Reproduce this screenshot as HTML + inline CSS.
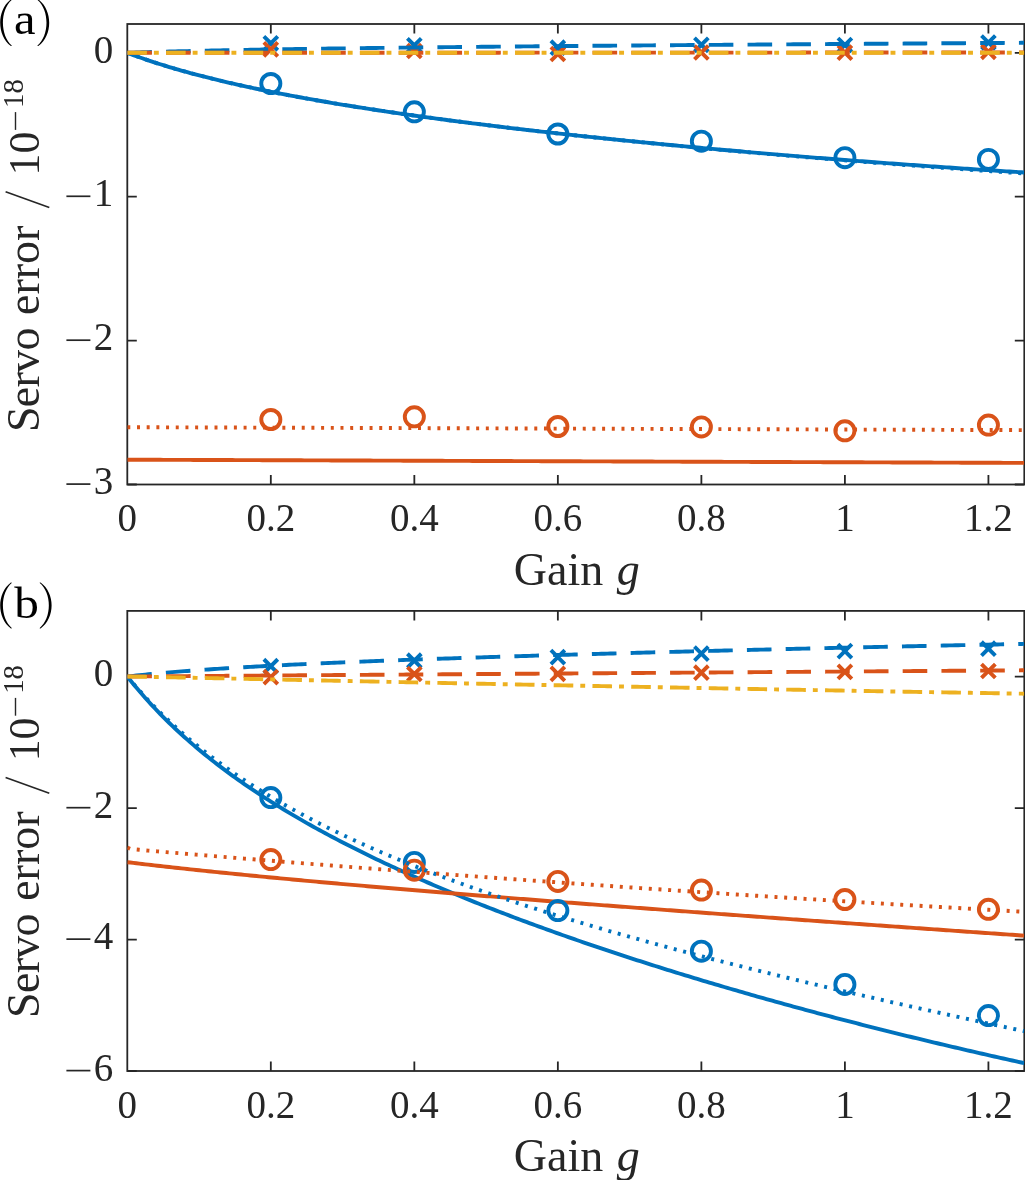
<!DOCTYPE html><html><head><meta charset="utf-8"><style>
html,body{margin:0;padding:0;background:#fff;}
svg{display:block;will-change:transform;}
text{font-family:"Liberation Serif", serif;}
.tk{font-size:39px;fill:#262626;}
.lab{font-size:46px;fill:#262626;}
.sup{font-size:31px;}
.pl{font-size:44px;fill:#000;}
.pp{font-size:53px;fill:#000;}
.yl{font-size:46px;fill:#262626;}
.sv{letter-spacing:-0.7px;}
.yd{font-size:43.6px;fill:#262626;}
.ys{font-size:28.8px;fill:#262626;}
</style></head><body><svg width="1025" height="1180" viewBox="0 0 1025 1180"><rect width="1025" height="1180" fill="#fff"/><path d="M270.82 484.50 V475.00 M270.82 24.00 V33.50 M414.34 484.50 V475.00 M414.34 24.00 V33.50 M557.86 484.50 V475.00 M557.86 24.00 V33.50 M701.38 484.50 V475.00 M701.38 24.00 V33.50 M844.90 484.50 V475.00 M844.90 24.00 V33.50 M988.42 484.50 V475.00 M988.42 24.00 V33.50 M127.30 52.78 H136.80 M1024.30 52.78 H1014.80 M127.30 196.69 H136.80 M1024.30 196.69 H1014.80 M127.30 340.59 H136.80 M1024.30 340.59 H1014.80 M127.30 484.50 H136.80 M1024.30 484.50 H1014.80" stroke="#262626" stroke-width="1.80" fill="none"/><rect x="127.30" y="24.00" width="897.00" height="460.50" fill="none" stroke="#262626" stroke-width="1.80"/><text x="127.30" y="531.30" class="tk" text-anchor="middle">0</text><text x="270.82" y="531.30" class="tk" text-anchor="middle">0.2</text><text x="414.34" y="531.30" class="tk" text-anchor="middle">0.4</text><text x="557.86" y="531.30" class="tk" text-anchor="middle">0.6</text><text x="701.38" y="531.30" class="tk" text-anchor="middle">0.8</text><text x="844.90" y="531.30" class="tk" text-anchor="middle">1</text><text x="988.42" y="531.30" class="tk" text-anchor="middle">1.2</text><text x="113.20" y="62.58" class="tk" text-anchor="end">0</text><rect x="66.4" y="195.44" width="24.0" height="1.7" fill="#262626"/><text x="113.20" y="206.49" class="tk" text-anchor="end">1</text><rect x="66.4" y="339.34" width="24.0" height="1.7" fill="#262626"/><text x="113.20" y="350.39" class="tk" text-anchor="end">2</text><rect x="66.4" y="483.25" width="24.0" height="1.7" fill="#262626"/><text x="113.20" y="494.30" class="tk" text-anchor="end">3</text><path d="M270.82 1071.00 V1061.50 M270.82 610.90 V620.40 M414.34 1071.00 V1061.50 M414.34 610.90 V620.40 M557.86 1071.00 V1061.50 M557.86 610.90 V620.40 M701.38 1071.00 V1061.50 M701.38 610.90 V620.40 M844.90 1071.00 V1061.50 M844.90 610.90 V620.40 M988.42 1071.00 V1061.50 M988.42 610.90 V620.40 M127.30 676.63 H136.80 M1024.30 676.63 H1014.80 M127.30 808.09 H136.80 M1024.30 808.09 H1014.80 M127.30 939.54 H136.80 M1024.30 939.54 H1014.80 M127.30 1071.00 H136.80 M1024.30 1071.00 H1014.80" stroke="#262626" stroke-width="1.80" fill="none"/><rect x="127.30" y="610.90" width="897.00" height="460.10" fill="none" stroke="#262626" stroke-width="1.80"/><text x="127.30" y="1117.80" class="tk" text-anchor="middle">0</text><text x="270.82" y="1117.80" class="tk" text-anchor="middle">0.2</text><text x="414.34" y="1117.80" class="tk" text-anchor="middle">0.4</text><text x="557.86" y="1117.80" class="tk" text-anchor="middle">0.6</text><text x="701.38" y="1117.80" class="tk" text-anchor="middle">0.8</text><text x="844.90" y="1117.80" class="tk" text-anchor="middle">1</text><text x="988.42" y="1117.80" class="tk" text-anchor="middle">1.2</text><text x="113.20" y="686.43" class="tk" text-anchor="end">0</text><rect x="66.4" y="806.84" width="24.0" height="1.7" fill="#262626"/><text x="113.20" y="817.89" class="tk" text-anchor="end">2</text><rect x="66.4" y="938.29" width="24.0" height="1.7" fill="#262626"/><text x="113.20" y="949.34" class="tk" text-anchor="end">4</text><rect x="66.4" y="1069.75" width="24.0" height="1.7" fill="#262626"/><text x="113.20" y="1080.80" class="tk" text-anchor="end">6</text><clipPath id="ca"><rect x="127.30" y="24.00" width="897.00" height="460.50"/></clipPath><g clip-path="url(#ca)"><path d="M127.30 52.80 L130.30 53.94 L133.30 55.05 L136.30 56.15 L139.30 57.23 L142.30 58.28 L145.30 59.32 L148.30 60.34 L151.30 61.34 L154.30 62.33 L157.30 63.30 L160.30 64.25 L163.30 65.19 L166.30 66.11 L169.30 67.02 L172.30 67.92 L175.30 68.80 L178.30 69.67 L181.30 70.52 L184.30 71.37 L187.30 72.20 L190.30 73.02 L193.30 73.83 L196.30 74.63 L199.30 75.42 L202.30 76.20 L205.30 76.96 L208.30 77.72 L211.30 78.47 L214.30 79.21 L217.30 79.94 L220.30 80.66 L223.30 81.38 L226.30 82.08 L229.30 82.78 L232.30 83.47 L235.30 84.15 L238.30 84.82 L241.30 85.49 L244.30 86.15 L247.30 86.80 L250.30 87.45 L253.30 88.09 L256.30 88.72 L259.30 89.35 L262.30 89.97 L265.30 90.58 L268.30 91.19 L271.30 91.79 L274.30 92.39 L277.30 92.98 L280.30 93.57 L283.30 94.15 L286.30 94.73 L289.30 95.30 L292.30 95.86 L295.30 96.42 L298.30 96.98 L301.30 97.53 L304.30 98.07 L307.30 98.62 L310.30 99.15 L313.30 99.69 L316.30 100.22 L319.30 100.74 L322.30 101.26 L325.30 101.78 L328.30 102.29 L331.30 102.80 L334.30 103.30 L337.30 103.81 L340.30 104.30 L343.30 104.80 L346.30 105.29 L349.30 105.77 L352.30 106.26 L355.30 106.74 L358.30 107.21 L361.30 107.69 L364.30 108.16 L367.30 108.63 L370.30 109.09 L373.30 109.55 L376.30 110.01 L379.30 110.46 L382.30 110.92 L385.30 111.36 L388.30 111.81 L391.30 112.25 L394.30 112.70 L397.30 113.13 L400.30 113.57 L403.30 114.00 L406.30 114.43 L409.30 114.86 L412.30 115.28 L415.30 115.71 L418.30 116.13 L421.30 116.55 L424.30 116.96 L427.30 117.37 L430.30 117.78 L433.30 118.19 L436.30 118.60 L439.30 119.00 L442.30 119.40 L445.30 119.80 L448.30 120.20 L451.30 120.60 L454.30 120.99 L457.30 121.38 L460.30 121.77 L463.30 122.16 L466.30 122.54 L469.30 122.93 L472.30 123.31 L475.30 123.69 L478.30 124.06 L481.30 124.44 L484.30 124.81 L487.30 125.18 L490.30 125.55 L493.30 125.92 L496.30 126.29 L499.30 126.65 L502.30 127.02 L505.30 127.38 L508.30 127.74 L511.30 128.09 L514.30 128.45 L517.30 128.80 L520.30 129.16 L523.30 129.51 L526.30 129.86 L529.30 130.21 L532.30 130.55 L535.30 130.90 L538.30 131.24 L541.30 131.58 L544.30 131.92 L547.30 132.26 L550.30 132.60 L553.30 132.93 L556.30 133.27 L559.30 133.60 L562.30 133.93 L565.30 134.26 L568.30 134.59 L571.30 134.92 L574.30 135.24 L577.30 135.57 L580.30 135.89 L583.30 136.21 L586.30 136.53 L589.30 136.85 L592.30 137.17 L595.30 137.48 L598.30 137.80 L601.30 138.11 L604.30 138.43 L607.30 138.74 L610.30 139.05 L613.30 139.36 L616.30 139.66 L619.30 139.97 L622.30 140.27 L625.30 140.58 L628.30 140.88 L631.30 141.18 L634.30 141.48 L637.30 141.78 L640.30 142.08 L643.30 142.38 L646.30 142.67 L649.30 142.97 L652.30 143.26 L655.30 143.55 L658.30 143.84 L661.30 144.13 L664.30 144.42 L667.30 144.71 L670.30 144.99 L673.30 145.28 L676.30 145.56 L679.30 145.85 L682.30 146.13 L685.30 146.41 L688.30 146.69 L691.30 146.97 L694.30 147.25 L697.30 147.53 L700.30 147.80 L703.30 148.08 L706.30 148.35 L709.30 148.62 L712.30 148.90 L715.30 149.17 L718.30 149.44 L721.30 149.71 L724.30 149.97 L727.30 150.24 L730.30 150.51 L733.30 150.77 L736.30 151.04 L739.30 151.30 L742.30 151.56 L745.30 151.82 L748.30 152.08 L751.30 152.34 L754.30 152.60 L757.30 152.86 L760.30 153.11 L763.30 153.37 L766.30 153.62 L769.30 153.88 L772.30 154.13 L775.30 154.38 L778.30 154.63 L781.30 154.88 L784.30 155.13 L787.30 155.38 L790.30 155.63 L793.30 155.88 L796.30 156.12 L799.30 156.37 L802.30 156.61 L805.30 156.85 L808.30 157.10 L811.30 157.34 L814.30 157.58 L817.30 157.82 L820.30 158.06 L823.30 158.29 L826.30 158.53 L829.30 158.77 L832.30 159.00 L835.30 159.24 L838.30 159.47 L841.30 159.71 L844.30 159.94 L847.30 160.17 L850.30 160.40 L853.30 160.63 L856.30 160.86 L859.30 161.09 L862.30 161.31 L865.30 161.54 L868.30 161.77 L871.30 161.99 L874.30 162.21 L877.30 162.44 L880.30 162.66 L883.30 162.88 L886.30 163.10 L889.30 163.32 L892.30 163.54 L895.30 163.76 L898.30 163.98 L901.30 164.20 L904.30 164.41 L907.30 164.63 L910.30 164.84 L913.30 165.06 L916.30 165.27 L919.30 165.48 L922.30 165.70 L925.30 165.91 L928.30 166.12 L931.30 166.33 L934.30 166.54 L937.30 166.74 L940.30 166.95 L943.30 167.16 L946.30 167.36 L949.30 167.57 L952.30 167.77 L955.30 167.98 L958.30 168.18 L961.30 168.38 L964.30 168.58 L967.30 168.78 L970.30 168.98 L973.30 169.18 L976.30 169.38 L979.30 169.58 L982.30 169.78 L985.30 169.97 L988.30 170.17 L991.30 170.36 L994.30 170.56 L997.30 170.75 L1000.30 170.95 L1003.30 171.14 L1006.30 171.33 L1009.30 171.52 L1012.30 171.71 L1015.30 171.90 L1018.30 172.09 L1021.30 172.28 L1024.30 172.46" fill="none" stroke="#0072BD" stroke-width="3.90" stroke-linejoin="round"/><path d="M127.30 459.70 L130.30 459.71 L133.30 459.72 L136.30 459.73 L139.30 459.74 L142.30 459.75 L145.30 459.76 L148.30 459.77 L151.30 459.79 L154.30 459.80 L157.30 459.81 L160.30 459.82 L163.30 459.83 L166.30 459.84 L169.30 459.85 L172.30 459.86 L175.30 459.87 L178.30 459.88 L181.30 459.89 L184.30 459.90 L187.30 459.91 L190.30 459.92 L193.30 459.94 L196.30 459.95 L199.30 459.96 L202.30 459.97 L205.30 459.98 L208.30 459.99 L211.30 460.00 L214.30 460.01 L217.30 460.02 L220.30 460.03 L223.30 460.04 L226.30 460.05 L229.30 460.06 L232.30 460.07 L235.30 460.09 L238.30 460.10 L241.30 460.11 L244.30 460.12 L247.30 460.13 L250.30 460.14 L253.30 460.15 L256.30 460.16 L259.30 460.17 L262.30 460.18 L265.30 460.19 L268.30 460.20 L271.30 460.21 L274.30 460.22 L277.30 460.24 L280.30 460.25 L283.30 460.26 L286.30 460.27 L289.30 460.28 L292.30 460.29 L295.30 460.30 L298.30 460.31 L301.30 460.32 L304.30 460.33 L307.30 460.34 L310.30 460.35 L313.30 460.36 L316.30 460.37 L319.30 460.38 L322.30 460.40 L325.30 460.41 L328.30 460.42 L331.30 460.43 L334.30 460.44 L337.30 460.45 L340.30 460.46 L343.30 460.47 L346.30 460.48 L349.30 460.49 L352.30 460.50 L355.30 460.51 L358.30 460.52 L361.30 460.53 L364.30 460.55 L367.30 460.56 L370.30 460.57 L373.30 460.58 L376.30 460.59 L379.30 460.60 L382.30 460.61 L385.30 460.62 L388.30 460.63 L391.30 460.64 L394.30 460.65 L397.30 460.66 L400.30 460.67 L403.30 460.68 L406.30 460.70 L409.30 460.71 L412.30 460.72 L415.30 460.73 L418.30 460.74 L421.30 460.75 L424.30 460.76 L427.30 460.77 L430.30 460.78 L433.30 460.79 L436.30 460.80 L439.30 460.81 L442.30 460.82 L445.30 460.83 L448.30 460.85 L451.30 460.86 L454.30 460.87 L457.30 460.88 L460.30 460.89 L463.30 460.90 L466.30 460.91 L469.30 460.92 L472.30 460.93 L475.30 460.94 L478.30 460.95 L481.30 460.96 L484.30 460.97 L487.30 460.98 L490.30 460.99 L493.30 461.01 L496.30 461.02 L499.30 461.03 L502.30 461.04 L505.30 461.05 L508.30 461.06 L511.30 461.07 L514.30 461.08 L517.30 461.09 L520.30 461.10 L523.30 461.11 L526.30 461.12 L529.30 461.13 L532.30 461.14 L535.30 461.16 L538.30 461.17 L541.30 461.18 L544.30 461.19 L547.30 461.20 L550.30 461.21 L553.30 461.22 L556.30 461.23 L559.30 461.24 L562.30 461.25 L565.30 461.26 L568.30 461.27 L571.30 461.28 L574.30 461.29 L577.30 461.31 L580.30 461.32 L583.30 461.33 L586.30 461.34 L589.30 461.35 L592.30 461.36 L595.30 461.37 L598.30 461.38 L601.30 461.39 L604.30 461.40 L607.30 461.41 L610.30 461.42 L613.30 461.43 L616.30 461.44 L619.30 461.46 L622.30 461.47 L625.30 461.48 L628.30 461.49 L631.30 461.50 L634.30 461.51 L637.30 461.52 L640.30 461.53 L643.30 461.54 L646.30 461.55 L649.30 461.56 L652.30 461.57 L655.30 461.58 L658.30 461.59 L661.30 461.61 L664.30 461.62 L667.30 461.63 L670.30 461.64 L673.30 461.65 L676.30 461.66 L679.30 461.67 L682.30 461.68 L685.30 461.69 L688.30 461.70 L691.30 461.71 L694.30 461.72 L697.30 461.73 L700.30 461.74 L703.30 461.75 L706.30 461.77 L709.30 461.78 L712.30 461.79 L715.30 461.80 L718.30 461.81 L721.30 461.82 L724.30 461.83 L727.30 461.84 L730.30 461.85 L733.30 461.86 L736.30 461.87 L739.30 461.88 L742.30 461.89 L745.30 461.90 L748.30 461.92 L751.30 461.93 L754.30 461.94 L757.30 461.95 L760.30 461.96 L763.30 461.97 L766.30 461.98 L769.30 461.99 L772.30 462.00 L775.30 462.01 L778.30 462.02 L781.30 462.03 L784.30 462.04 L787.30 462.05 L790.30 462.07 L793.30 462.08 L796.30 462.09 L799.30 462.10 L802.30 462.11 L805.30 462.12 L808.30 462.13 L811.30 462.14 L814.30 462.15 L817.30 462.16 L820.30 462.17 L823.30 462.18 L826.30 462.19 L829.30 462.20 L832.30 462.22 L835.30 462.23 L838.30 462.24 L841.30 462.25 L844.30 462.26 L847.30 462.27 L850.30 462.28 L853.30 462.29 L856.30 462.30 L859.30 462.31 L862.30 462.32 L865.30 462.33 L868.30 462.34 L871.30 462.35 L874.30 462.36 L877.30 462.38 L880.30 462.39 L883.30 462.40 L886.30 462.41 L889.30 462.42 L892.30 462.43 L895.30 462.44 L898.30 462.45 L901.30 462.46 L904.30 462.47 L907.30 462.48 L910.30 462.49 L913.30 462.50 L916.30 462.51 L919.30 462.53 L922.30 462.54 L925.30 462.55 L928.30 462.56 L931.30 462.57 L934.30 462.58 L937.30 462.59 L940.30 462.60 L943.30 462.61 L946.30 462.62 L949.30 462.63 L952.30 462.64 L955.30 462.65 L958.30 462.66 L961.30 462.68 L964.30 462.69 L967.30 462.70 L970.30 462.71 L973.30 462.72 L976.30 462.73 L979.30 462.74 L982.30 462.75 L985.30 462.76 L988.30 462.77 L991.30 462.78 L994.30 462.79 L997.30 462.80 L1000.30 462.81 L1003.30 462.83 L1006.30 462.84 L1009.30 462.85 L1012.30 462.86 L1015.30 462.87 L1018.30 462.88 L1021.30 462.89 L1024.30 462.90" fill="none" stroke="#D95319" stroke-width="3.90" stroke-linejoin="round"/><circle cx="270.82" cy="83.50" r="9.55" fill="none" stroke="#0072BD" stroke-width="3.90"/><circle cx="414.34" cy="111.80" r="9.55" fill="none" stroke="#0072BD" stroke-width="3.90"/><circle cx="557.86" cy="134.00" r="9.55" fill="none" stroke="#0072BD" stroke-width="3.90"/><circle cx="701.38" cy="141.20" r="9.55" fill="none" stroke="#0072BD" stroke-width="3.90"/><circle cx="844.90" cy="157.70" r="9.55" fill="none" stroke="#0072BD" stroke-width="3.90"/><circle cx="988.42" cy="159.40" r="9.55" fill="none" stroke="#0072BD" stroke-width="3.90"/><circle cx="270.82" cy="419.50" r="9.55" fill="none" stroke="#D95319" stroke-width="3.90"/><circle cx="414.34" cy="416.80" r="9.55" fill="none" stroke="#D95319" stroke-width="3.90"/><circle cx="557.86" cy="426.50" r="9.55" fill="none" stroke="#D95319" stroke-width="3.90"/><circle cx="701.38" cy="426.90" r="9.55" fill="none" stroke="#D95319" stroke-width="3.90"/><circle cx="844.90" cy="430.80" r="9.55" fill="none" stroke="#D95319" stroke-width="3.90"/><circle cx="988.42" cy="425.10" r="9.55" fill="none" stroke="#D95319" stroke-width="3.90"/><path d="M127.30 52.80 L130.30 53.94 L133.30 55.05 L136.30 56.15 L139.30 57.22 L142.30 58.28 L145.30 59.31 L148.30 60.33 L151.30 61.33 L154.30 62.32 L157.30 63.29 L160.30 64.24 L163.30 65.18 L166.30 66.10 L169.30 67.01 L172.30 67.91 L175.30 68.79 L178.30 69.66 L181.30 70.52 L184.30 71.36 L187.30 72.20 L190.30 73.02 L193.30 73.83 L196.30 74.63 L199.30 75.42 L202.30 76.20 L205.30 76.97 L208.30 77.72 L211.30 78.47 L214.30 79.21 L217.30 79.95 L220.30 80.67 L223.30 81.38 L226.30 82.09 L229.30 82.79 L232.30 83.48 L235.30 84.16 L238.30 84.83 L241.30 85.50 L244.30 86.16 L247.30 86.81 L250.30 87.46 L253.30 88.10 L256.30 88.73 L259.30 89.36 L262.30 89.98 L265.30 90.59 L268.30 91.20 L271.30 91.80 L274.30 92.40 L277.30 92.99 L280.30 93.58 L283.30 94.16 L286.30 94.73 L289.30 95.30 L292.30 95.87 L295.30 96.43 L298.30 96.99 L301.30 97.54 L304.30 98.08 L307.30 98.62 L310.30 99.16 L313.30 99.69 L316.30 100.22 L319.30 100.75 L322.30 101.27 L325.30 101.78 L328.30 102.29 L331.30 102.80 L334.30 103.31 L337.30 103.81 L340.30 104.31 L343.30 104.80 L346.30 105.29 L349.30 105.77 L352.30 106.26 L355.30 106.74 L358.30 107.21 L361.30 107.69 L364.30 108.16 L367.30 108.62 L370.30 109.08 L373.30 109.55 L376.30 110.00 L379.30 110.46 L382.30 110.91 L385.30 111.36 L388.30 111.80 L391.30 112.25 L394.30 112.69 L397.30 113.12 L400.30 113.56 L403.30 113.99 L406.30 114.42 L409.30 114.85 L412.30 115.27 L415.30 115.69 L418.30 116.11 L421.30 116.53 L424.30 116.94 L427.30 117.36 L430.30 117.77 L433.30 118.18 L436.30 118.58 L439.30 118.98 L442.30 119.39 L445.30 119.78 L448.30 120.18 L451.30 120.58 L454.30 120.97 L457.30 121.36 L460.30 121.75 L463.30 122.14 L466.30 122.52 L469.30 122.90 L472.30 123.29 L475.30 123.66 L478.30 124.04 L481.30 124.42 L484.30 124.79 L487.30 125.16 L490.30 125.53 L493.30 125.90 L496.30 126.27 L499.30 126.63 L502.30 126.99 L505.30 127.36 L508.30 127.72 L511.30 128.07 L514.30 128.43 L517.30 128.78 L520.30 129.14 L523.30 129.49 L526.30 129.84 L529.30 130.19 L532.30 130.53 L535.30 130.88 L538.30 131.22 L541.30 131.57 L544.30 131.91 L547.30 132.25 L550.30 132.59 L553.30 132.92 L556.30 133.26 L559.30 133.59 L562.30 133.92 L565.30 134.25 L568.30 134.58 L571.30 134.91 L574.30 135.24 L577.30 135.57 L580.30 135.89 L583.30 136.21 L586.30 136.54 L589.30 136.86 L592.30 137.18 L595.30 137.49 L598.30 137.81 L601.30 138.13 L604.30 138.44 L607.30 138.75 L610.30 139.07 L613.30 139.38 L616.30 139.69 L619.30 139.99 L622.30 140.30 L625.30 140.61 L628.30 140.91 L631.30 141.22 L634.30 141.52 L637.30 141.82 L640.30 142.12 L643.30 142.42 L646.30 142.72 L649.30 143.02 L652.30 143.31 L655.30 143.61 L658.30 143.90 L661.30 144.20 L664.30 144.49 L667.30 144.78 L670.30 145.07 L673.30 145.36 L676.30 145.65 L679.30 145.93 L682.30 146.22 L685.30 146.50 L688.30 146.79 L691.30 147.07 L694.30 147.35 L697.30 147.63 L700.30 147.91 L703.30 148.19 L706.30 148.47 L709.30 148.75 L712.30 149.03 L715.30 149.30 L718.30 149.58 L721.30 149.85 L724.30 150.12 L727.30 150.39 L730.30 150.66 L733.30 150.93 L736.30 151.20 L739.30 151.47 L742.30 151.74 L745.30 152.01 L748.30 152.27 L751.30 152.54 L754.30 152.80 L757.30 153.06 L760.30 153.32 L763.30 153.59 L766.30 153.85 L769.30 154.11 L772.30 154.37 L775.30 154.62 L778.30 154.88 L781.30 155.14 L784.30 155.39 L787.30 155.65 L790.30 155.90 L793.30 156.15 L796.30 156.41 L799.30 156.66 L802.30 156.91 L805.30 157.16 L808.30 157.41 L811.30 157.66 L814.30 157.90 L817.30 158.15 L820.30 158.40 L823.30 158.64 L826.30 158.89 L829.30 159.13 L832.30 159.37 L835.30 159.62 L838.30 159.86 L841.30 160.10 L844.30 160.34 L847.30 160.58 L850.30 160.82 L853.30 161.06 L856.30 161.29 L859.30 161.53 L862.30 161.77 L865.30 162.00 L868.30 162.23 L871.30 162.47 L874.30 162.70 L877.30 162.93 L880.30 163.17 L883.30 163.40 L886.30 163.63 L889.30 163.86 L892.30 164.08 L895.30 164.31 L898.30 164.54 L901.30 164.77 L904.30 164.99 L907.30 165.22 L910.30 165.44 L913.30 165.67 L916.30 165.89 L919.30 166.11 L922.30 166.34 L925.30 166.56 L928.30 166.78 L931.30 167.00 L934.30 167.22 L937.30 167.44 L940.30 167.65 L943.30 167.87 L946.30 168.09 L949.30 168.30 L952.30 168.52 L955.30 168.73 L958.30 168.95 L961.30 169.16 L964.30 169.38 L967.30 169.59 L970.30 169.80 L973.30 170.01 L976.30 170.22 L979.30 170.43 L982.30 170.64 L985.30 170.85 L988.30 171.06 L991.30 171.26 L994.30 171.47 L997.30 171.68 L1000.30 171.88 L1003.30 172.09 L1006.30 172.29 L1009.30 172.50 L1012.30 172.70 L1015.30 172.90 L1018.30 173.10 L1021.30 173.31 L1024.30 173.51" fill="none" stroke="#0072BD" stroke-width="3.90" stroke-linejoin="round" stroke-dasharray="3 6.69"/><path d="M127.30 427.20 L130.30 427.21 L133.30 427.22 L136.30 427.23 L139.30 427.24 L142.30 427.25 L145.30 427.26 L148.30 427.27 L151.30 427.28 L154.30 427.29 L157.30 427.30 L160.30 427.31 L163.30 427.32 L166.30 427.33 L169.30 427.34 L172.30 427.35 L175.30 427.36 L178.30 427.36 L181.30 427.37 L184.30 427.38 L187.30 427.39 L190.30 427.40 L193.30 427.41 L196.30 427.42 L199.30 427.43 L202.30 427.44 L205.30 427.45 L208.30 427.46 L211.30 427.47 L214.30 427.48 L217.30 427.49 L220.30 427.50 L223.30 427.51 L226.30 427.52 L229.30 427.53 L232.30 427.54 L235.30 427.55 L238.30 427.56 L241.30 427.57 L244.30 427.58 L247.30 427.59 L250.30 427.60 L253.30 427.61 L256.30 427.62 L259.30 427.63 L262.30 427.64 L265.30 427.65 L268.30 427.66 L271.30 427.67 L274.30 427.68 L277.30 427.68 L280.30 427.69 L283.30 427.70 L286.30 427.71 L289.30 427.72 L292.30 427.73 L295.30 427.74 L298.30 427.75 L301.30 427.76 L304.30 427.77 L307.30 427.78 L310.30 427.79 L313.30 427.80 L316.30 427.81 L319.30 427.82 L322.30 427.83 L325.30 427.84 L328.30 427.85 L331.30 427.86 L334.30 427.87 L337.30 427.88 L340.30 427.89 L343.30 427.90 L346.30 427.91 L349.30 427.92 L352.30 427.93 L355.30 427.94 L358.30 427.95 L361.30 427.96 L364.30 427.97 L367.30 427.98 L370.30 427.99 L373.30 428.00 L376.30 428.01 L379.30 428.01 L382.30 428.02 L385.30 428.03 L388.30 428.04 L391.30 428.05 L394.30 428.06 L397.30 428.07 L400.30 428.08 L403.30 428.09 L406.30 428.10 L409.30 428.11 L412.30 428.12 L415.30 428.13 L418.30 428.14 L421.30 428.15 L424.30 428.16 L427.30 428.17 L430.30 428.18 L433.30 428.19 L436.30 428.20 L439.30 428.21 L442.30 428.22 L445.30 428.23 L448.30 428.24 L451.30 428.25 L454.30 428.26 L457.30 428.27 L460.30 428.28 L463.30 428.29 L466.30 428.30 L469.30 428.31 L472.30 428.32 L475.30 428.33 L478.30 428.33 L481.30 428.34 L484.30 428.35 L487.30 428.36 L490.30 428.37 L493.30 428.38 L496.30 428.39 L499.30 428.40 L502.30 428.41 L505.30 428.42 L508.30 428.43 L511.30 428.44 L514.30 428.45 L517.30 428.46 L520.30 428.47 L523.30 428.48 L526.30 428.49 L529.30 428.50 L532.30 428.51 L535.30 428.52 L538.30 428.53 L541.30 428.54 L544.30 428.55 L547.30 428.56 L550.30 428.57 L553.30 428.58 L556.30 428.59 L559.30 428.60 L562.30 428.61 L565.30 428.62 L568.30 428.63 L571.30 428.64 L574.30 428.65 L577.30 428.65 L580.30 428.66 L583.30 428.67 L586.30 428.68 L589.30 428.69 L592.30 428.70 L595.30 428.71 L598.30 428.72 L601.30 428.73 L604.30 428.74 L607.30 428.75 L610.30 428.76 L613.30 428.77 L616.30 428.78 L619.30 428.79 L622.30 428.80 L625.30 428.81 L628.30 428.82 L631.30 428.83 L634.30 428.84 L637.30 428.85 L640.30 428.86 L643.30 428.87 L646.30 428.88 L649.30 428.89 L652.30 428.90 L655.30 428.91 L658.30 428.92 L661.30 428.93 L664.30 428.94 L667.30 428.95 L670.30 428.96 L673.30 428.97 L676.30 428.97 L679.30 428.98 L682.30 428.99 L685.30 429.00 L688.30 429.01 L691.30 429.02 L694.30 429.03 L697.30 429.04 L700.30 429.05 L703.30 429.06 L706.30 429.07 L709.30 429.08 L712.30 429.09 L715.30 429.10 L718.30 429.11 L721.30 429.12 L724.30 429.13 L727.30 429.14 L730.30 429.15 L733.30 429.16 L736.30 429.17 L739.30 429.18 L742.30 429.19 L745.30 429.20 L748.30 429.21 L751.30 429.22 L754.30 429.23 L757.30 429.24 L760.30 429.25 L763.30 429.26 L766.30 429.27 L769.30 429.28 L772.30 429.29 L775.30 429.29 L778.30 429.30 L781.30 429.31 L784.30 429.32 L787.30 429.33 L790.30 429.34 L793.30 429.35 L796.30 429.36 L799.30 429.37 L802.30 429.38 L805.30 429.39 L808.30 429.40 L811.30 429.41 L814.30 429.42 L817.30 429.43 L820.30 429.44 L823.30 429.45 L826.30 429.46 L829.30 429.47 L832.30 429.48 L835.30 429.49 L838.30 429.50 L841.30 429.51 L844.30 429.52 L847.30 429.53 L850.30 429.54 L853.30 429.55 L856.30 429.56 L859.30 429.57 L862.30 429.58 L865.30 429.59 L868.30 429.60 L871.30 429.61 L874.30 429.62 L877.30 429.62 L880.30 429.63 L883.30 429.64 L886.30 429.65 L889.30 429.66 L892.30 429.67 L895.30 429.68 L898.30 429.69 L901.30 429.70 L904.30 429.71 L907.30 429.72 L910.30 429.73 L913.30 429.74 L916.30 429.75 L919.30 429.76 L922.30 429.77 L925.30 429.78 L928.30 429.79 L931.30 429.80 L934.30 429.81 L937.30 429.82 L940.30 429.83 L943.30 429.84 L946.30 429.85 L949.30 429.86 L952.30 429.87 L955.30 429.88 L958.30 429.89 L961.30 429.90 L964.30 429.91 L967.30 429.92 L970.30 429.93 L973.30 429.94 L976.30 429.94 L979.30 429.95 L982.30 429.96 L985.30 429.97 L988.30 429.98 L991.30 429.99 L994.30 430.00 L997.30 430.01 L1000.30 430.02 L1003.30 430.03 L1006.30 430.04 L1009.30 430.05 L1012.30 430.06 L1015.30 430.07 L1018.30 430.08 L1021.30 430.09 L1024.30 430.10" fill="none" stroke="#D95319" stroke-width="3.90" stroke-linejoin="round" stroke-dasharray="3 6.69"/><path d="M263.87 36.35 L277.77 50.25 M263.87 50.25 L277.77 36.35" stroke="#0072BD" stroke-width="3.90" fill="none"/><path d="M407.39 38.35 L421.29 52.25 M407.39 52.25 L421.29 38.35" stroke="#0072BD" stroke-width="3.90" fill="none"/><path d="M550.91 40.75 L564.81 54.65 M550.91 54.65 L564.81 40.75" stroke="#0072BD" stroke-width="3.90" fill="none"/><path d="M694.43 37.85 L708.33 51.75 M694.43 51.75 L708.33 37.85" stroke="#0072BD" stroke-width="3.90" fill="none"/><path d="M837.95 38.05 L851.85 51.95 M837.95 51.95 L851.85 38.05" stroke="#0072BD" stroke-width="3.90" fill="none"/><path d="M981.47 35.55 L995.37 49.45 M981.47 49.45 L995.37 35.55" stroke="#0072BD" stroke-width="3.90" fill="none"/><path d="M263.87 42.45 L277.77 56.35 M263.87 56.35 L277.77 42.45" stroke="#D95319" stroke-width="3.90" fill="none"/><path d="M407.39 44.05 L421.29 57.95 M407.39 57.95 L421.29 44.05" stroke="#D95319" stroke-width="3.90" fill="none"/><path d="M550.91 47.05 L564.81 60.95 M550.91 60.95 L564.81 47.05" stroke="#D95319" stroke-width="3.90" fill="none"/><path d="M694.43 45.55 L708.33 59.45 M694.43 59.45 L708.33 45.55" stroke="#D95319" stroke-width="3.90" fill="none"/><path d="M837.95 45.65 L851.85 59.55 M837.95 59.55 L851.85 45.65" stroke="#D95319" stroke-width="3.90" fill="none"/><path d="M981.47 44.85 L995.37 58.75 M981.47 58.75 L995.37 44.85" stroke="#D95319" stroke-width="3.90" fill="none"/><path d="M127.30 52.80 L130.30 52.70 L133.30 52.60 L136.30 52.50 L139.30 52.41 L142.30 52.31 L145.30 52.22 L148.30 52.13 L151.30 52.04 L154.30 51.95 L157.30 51.87 L160.30 51.78 L163.30 51.70 L166.30 51.62 L169.30 51.54 L172.30 51.46 L175.30 51.39 L178.30 51.31 L181.30 51.23 L184.30 51.16 L187.30 51.09 L190.30 51.02 L193.30 50.95 L196.30 50.88 L199.30 50.81 L202.30 50.74 L205.30 50.68 L208.30 50.61 L211.30 50.55 L214.30 50.48 L217.30 50.42 L220.30 50.36 L223.30 50.30 L226.30 50.24 L229.30 50.18 L232.30 50.12 L235.30 50.06 L238.30 50.01 L241.30 49.95 L244.30 49.89 L247.30 49.84 L250.30 49.78 L253.30 49.73 L256.30 49.68 L259.30 49.63 L262.30 49.57 L265.30 49.52 L268.30 49.47 L271.30 49.42 L274.30 49.37 L277.30 49.32 L280.30 49.27 L283.30 49.23 L286.30 49.18 L289.30 49.13 L292.30 49.09 L295.30 49.04 L298.30 48.99 L301.30 48.95 L304.30 48.90 L307.30 48.86 L310.30 48.82 L313.30 48.77 L316.30 48.73 L319.30 48.69 L322.30 48.64 L325.30 48.60 L328.30 48.56 L331.30 48.52 L334.30 48.48 L337.30 48.44 L340.30 48.40 L343.30 48.36 L346.30 48.32 L349.30 48.28 L352.30 48.24 L355.30 48.20 L358.30 48.17 L361.30 48.13 L364.30 48.09 L367.30 48.05 L370.30 48.02 L373.30 47.98 L376.30 47.94 L379.30 47.91 L382.30 47.87 L385.30 47.84 L388.30 47.80 L391.30 47.77 L394.30 47.73 L397.30 47.70 L400.30 47.66 L403.30 47.63 L406.30 47.59 L409.30 47.56 L412.30 47.53 L415.30 47.49 L418.30 47.46 L421.30 47.43 L424.30 47.40 L427.30 47.36 L430.30 47.33 L433.30 47.30 L436.30 47.27 L439.30 47.24 L442.30 47.20 L445.30 47.17 L448.30 47.14 L451.30 47.11 L454.30 47.08 L457.30 47.05 L460.30 47.02 L463.30 46.99 L466.30 46.96 L469.30 46.93 L472.30 46.90 L475.30 46.87 L478.30 46.84 L481.30 46.81 L484.30 46.78 L487.30 46.76 L490.30 46.73 L493.30 46.70 L496.30 46.67 L499.30 46.64 L502.30 46.61 L505.30 46.58 L508.30 46.56 L511.30 46.53 L514.30 46.50 L517.30 46.47 L520.30 46.45 L523.30 46.42 L526.30 46.39 L529.30 46.37 L532.30 46.34 L535.30 46.31 L538.30 46.29 L541.30 46.26 L544.30 46.23 L547.30 46.21 L550.30 46.18 L553.30 46.15 L556.30 46.13 L559.30 46.10 L562.30 46.08 L565.30 46.05 L568.30 46.02 L571.30 46.00 L574.30 45.97 L577.30 45.95 L580.30 45.92 L583.30 45.90 L586.30 45.87 L589.30 45.85 L592.30 45.82 L595.30 45.80 L598.30 45.77 L601.30 45.75 L604.30 45.72 L607.30 45.70 L610.30 45.68 L613.30 45.65 L616.30 45.63 L619.30 45.60 L622.30 45.58 L625.30 45.56 L628.30 45.53 L631.30 45.51 L634.30 45.48 L637.30 45.46 L640.30 45.44 L643.30 45.41 L646.30 45.39 L649.30 45.37 L652.30 45.34 L655.30 45.32 L658.30 45.30 L661.30 45.27 L664.30 45.25 L667.30 45.23 L670.30 45.21 L673.30 45.18 L676.30 45.16 L679.30 45.14 L682.30 45.11 L685.30 45.09 L688.30 45.07 L691.30 45.05 L694.30 45.02 L697.30 45.00 L700.30 44.98 L703.30 44.96 L706.30 44.94 L709.30 44.91 L712.30 44.89 L715.30 44.87 L718.30 44.85 L721.30 44.83 L724.30 44.80 L727.30 44.78 L730.30 44.76 L733.30 44.74 L736.30 44.72 L739.30 44.70 L742.30 44.67 L745.30 44.65 L748.30 44.63 L751.30 44.61 L754.30 44.59 L757.30 44.57 L760.30 44.55 L763.30 44.52 L766.30 44.50 L769.30 44.48 L772.30 44.46 L775.30 44.44 L778.30 44.42 L781.30 44.40 L784.30 44.38 L787.30 44.36 L790.30 44.33 L793.30 44.31 L796.30 44.29 L799.30 44.27 L802.30 44.25 L805.30 44.23 L808.30 44.21 L811.30 44.19 L814.30 44.17 L817.30 44.15 L820.30 44.13 L823.30 44.11 L826.30 44.09 L829.30 44.07 L832.30 44.05 L835.30 44.03 L838.30 44.01 L841.30 43.99 L844.30 43.97 L847.30 43.95 L850.30 43.92 L853.30 43.90 L856.30 43.88 L859.30 43.86 L862.30 43.84 L865.30 43.82 L868.30 43.80 L871.30 43.78 L874.30 43.76 L877.30 43.74 L880.30 43.72 L883.30 43.70 L886.30 43.68 L889.30 43.67 L892.30 43.65 L895.30 43.63 L898.30 43.61 L901.30 43.59 L904.30 43.57 L907.30 43.55 L910.30 43.53 L913.30 43.51 L916.30 43.49 L919.30 43.47 L922.30 43.45 L925.30 43.43 L928.30 43.41 L931.30 43.39 L934.30 43.37 L937.30 43.35 L940.30 43.33 L943.30 43.31 L946.30 43.29 L949.30 43.27 L952.30 43.25 L955.30 43.24 L958.30 43.22 L961.30 43.20 L964.30 43.18 L967.30 43.16 L970.30 43.14 L973.30 43.12 L976.30 43.10 L979.30 43.08 L982.30 43.06 L985.30 43.04 L988.30 43.02 L991.30 43.01 L994.30 42.99 L997.30 42.97 L1000.30 42.95 L1003.30 42.93 L1006.30 42.91 L1009.30 42.89 L1012.30 42.87 L1015.30 42.85 L1018.30 42.83 L1021.30 42.82 L1024.30 42.80" fill="none" stroke="#0072BD" stroke-width="3.90" stroke-linejoin="round" stroke-dasharray="24.6 14.17"/><path d="M127.30 52.80 L130.30 52.80 L133.30 52.80 L136.30 52.80 L139.30 52.80 L142.30 52.79 L145.30 52.79 L148.30 52.79 L151.30 52.79 L154.30 52.79 L157.30 52.79 L160.30 52.79 L163.30 52.79 L166.30 52.79 L169.30 52.79 L172.30 52.78 L175.30 52.78 L178.30 52.78 L181.30 52.78 L184.30 52.78 L187.30 52.78 L190.30 52.78 L193.30 52.78 L196.30 52.78 L199.30 52.78 L202.30 52.77 L205.30 52.77 L208.30 52.77 L211.30 52.77 L214.30 52.77 L217.30 52.77 L220.30 52.77 L223.30 52.77 L226.30 52.77 L229.30 52.77 L232.30 52.76 L235.30 52.76 L238.30 52.76 L241.30 52.76 L244.30 52.76 L247.30 52.76 L250.30 52.76 L253.30 52.76 L256.30 52.76 L259.30 52.76 L262.30 52.75 L265.30 52.75 L268.30 52.75 L271.30 52.75 L274.30 52.75 L277.30 52.75 L280.30 52.75 L283.30 52.75 L286.30 52.75 L289.30 52.75 L292.30 52.74 L295.30 52.74 L298.30 52.74 L301.30 52.74 L304.30 52.74 L307.30 52.74 L310.30 52.74 L313.30 52.74 L316.30 52.74 L319.30 52.74 L322.30 52.73 L325.30 52.73 L328.30 52.73 L331.30 52.73 L334.30 52.73 L337.30 52.73 L340.30 52.73 L343.30 52.73 L346.30 52.73 L349.30 52.73 L352.30 52.72 L355.30 52.72 L358.30 52.72 L361.30 52.72 L364.30 52.72 L367.30 52.72 L370.30 52.72 L373.30 52.72 L376.30 52.72 L379.30 52.72 L382.30 52.71 L385.30 52.71 L388.30 52.71 L391.30 52.71 L394.30 52.71 L397.30 52.71 L400.30 52.71 L403.30 52.71 L406.30 52.71 L409.30 52.71 L412.30 52.70 L415.30 52.70 L418.30 52.70 L421.30 52.70 L424.30 52.70 L427.30 52.70 L430.30 52.70 L433.30 52.70 L436.30 52.70 L439.30 52.70 L442.30 52.69 L445.30 52.69 L448.30 52.69 L451.30 52.69 L454.30 52.69 L457.30 52.69 L460.30 52.69 L463.30 52.69 L466.30 52.69 L469.30 52.69 L472.30 52.68 L475.30 52.68 L478.30 52.68 L481.30 52.68 L484.30 52.68 L487.30 52.68 L490.30 52.68 L493.30 52.68 L496.30 52.68 L499.30 52.68 L502.30 52.67 L505.30 52.67 L508.30 52.67 L511.30 52.67 L514.30 52.67 L517.30 52.67 L520.30 52.67 L523.30 52.67 L526.30 52.67 L529.30 52.67 L532.30 52.66 L535.30 52.66 L538.30 52.66 L541.30 52.66 L544.30 52.66 L547.30 52.66 L550.30 52.66 L553.30 52.66 L556.30 52.66 L559.30 52.66 L562.30 52.65 L565.30 52.65 L568.30 52.65 L571.30 52.65 L574.30 52.65 L577.30 52.65 L580.30 52.65 L583.30 52.65 L586.30 52.65 L589.30 52.65 L592.30 52.64 L595.30 52.64 L598.30 52.64 L601.30 52.64 L604.30 52.64 L607.30 52.64 L610.30 52.64 L613.30 52.64 L616.30 52.64 L619.30 52.64 L622.30 52.63 L625.30 52.63 L628.30 52.63 L631.30 52.63 L634.30 52.63 L637.30 52.63 L640.30 52.63 L643.30 52.63 L646.30 52.63 L649.30 52.63 L652.30 52.62 L655.30 52.62 L658.30 52.62 L661.30 52.62 L664.30 52.62 L667.30 52.62 L670.30 52.62 L673.30 52.62 L676.30 52.62 L679.30 52.62 L682.30 52.61 L685.30 52.61 L688.30 52.61 L691.30 52.61 L694.30 52.61 L697.30 52.61 L700.30 52.61 L703.30 52.61 L706.30 52.61 L709.30 52.61 L712.30 52.60 L715.30 52.60 L718.30 52.60 L721.30 52.60 L724.30 52.60 L727.30 52.60 L730.30 52.60 L733.30 52.60 L736.30 52.60 L739.30 52.60 L742.30 52.59 L745.30 52.59 L748.30 52.59 L751.30 52.59 L754.30 52.59 L757.30 52.59 L760.30 52.59 L763.30 52.59 L766.30 52.59 L769.30 52.59 L772.30 52.58 L775.30 52.58 L778.30 52.58 L781.30 52.58 L784.30 52.58 L787.30 52.58 L790.30 52.58 L793.30 52.58 L796.30 52.58 L799.30 52.58 L802.30 52.57 L805.30 52.57 L808.30 52.57 L811.30 52.57 L814.30 52.57 L817.30 52.57 L820.30 52.57 L823.30 52.57 L826.30 52.57 L829.30 52.57 L832.30 52.56 L835.30 52.56 L838.30 52.56 L841.30 52.56 L844.30 52.56 L847.30 52.56 L850.30 52.56 L853.30 52.56 L856.30 52.56 L859.30 52.56 L862.30 52.55 L865.30 52.55 L868.30 52.55 L871.30 52.55 L874.30 52.55 L877.30 52.55 L880.30 52.55 L883.30 52.55 L886.30 52.55 L889.30 52.55 L892.30 52.54 L895.30 52.54 L898.30 52.54 L901.30 52.54 L904.30 52.54 L907.30 52.54 L910.30 52.54 L913.30 52.54 L916.30 52.54 L919.30 52.54 L922.30 52.53 L925.30 52.53 L928.30 52.53 L931.30 52.53 L934.30 52.53 L937.30 52.53 L940.30 52.53 L943.30 52.53 L946.30 52.53 L949.30 52.53 L952.30 52.52 L955.30 52.52 L958.30 52.52 L961.30 52.52 L964.30 52.52 L967.30 52.52 L970.30 52.52 L973.30 52.52 L976.30 52.52 L979.30 52.52 L982.30 52.51 L985.30 52.51 L988.30 52.51 L991.30 52.51 L994.30 52.51 L997.30 52.51 L1000.30 52.51 L1003.30 52.51 L1006.30 52.51 L1009.30 52.51 L1012.30 52.50 L1015.30 52.50 L1018.30 52.50 L1021.30 52.50 L1024.30 52.50" fill="none" stroke="#D95319" stroke-width="3.90" stroke-linejoin="round" stroke-dasharray="24.6 14.17"/><path d="M127.30 52.80 L130.30 52.80 L133.30 52.80 L136.30 52.80 L139.30 52.80 L142.30 52.80 L145.30 52.80 L148.30 52.80 L151.30 52.80 L154.30 52.80 L157.30 52.80 L160.30 52.80 L163.30 52.80 L166.30 52.80 L169.30 52.80 L172.30 52.80 L175.30 52.80 L178.30 52.80 L181.30 52.80 L184.30 52.80 L187.30 52.80 L190.30 52.80 L193.30 52.80 L196.30 52.80 L199.30 52.80 L202.30 52.80 L205.30 52.80 L208.30 52.80 L211.30 52.80 L214.30 52.80 L217.30 52.80 L220.30 52.80 L223.30 52.80 L226.30 52.80 L229.30 52.80 L232.30 52.80 L235.30 52.80 L238.30 52.80 L241.30 52.80 L244.30 52.80 L247.30 52.80 L250.30 52.80 L253.30 52.80 L256.30 52.80 L259.30 52.80 L262.30 52.80 L265.30 52.80 L268.30 52.80 L271.30 52.80 L274.30 52.80 L277.30 52.80 L280.30 52.80 L283.30 52.80 L286.30 52.80 L289.30 52.80 L292.30 52.80 L295.30 52.80 L298.30 52.80 L301.30 52.80 L304.30 52.80 L307.30 52.80 L310.30 52.80 L313.30 52.80 L316.30 52.80 L319.30 52.80 L322.30 52.80 L325.30 52.80 L328.30 52.80 L331.30 52.80 L334.30 52.80 L337.30 52.80 L340.30 52.80 L343.30 52.80 L346.30 52.80 L349.30 52.80 L352.30 52.80 L355.30 52.80 L358.30 52.80 L361.30 52.80 L364.30 52.80 L367.30 52.80 L370.30 52.80 L373.30 52.80 L376.30 52.80 L379.30 52.80 L382.30 52.80 L385.30 52.80 L388.30 52.80 L391.30 52.80 L394.30 52.80 L397.30 52.80 L400.30 52.80 L403.30 52.80 L406.30 52.80 L409.30 52.80 L412.30 52.80 L415.30 52.80 L418.30 52.80 L421.30 52.80 L424.30 52.80 L427.30 52.80 L430.30 52.80 L433.30 52.80 L436.30 52.80 L439.30 52.80 L442.30 52.80 L445.30 52.80 L448.30 52.80 L451.30 52.80 L454.30 52.80 L457.30 52.80 L460.30 52.80 L463.30 52.80 L466.30 52.80 L469.30 52.80 L472.30 52.80 L475.30 52.80 L478.30 52.80 L481.30 52.80 L484.30 52.80 L487.30 52.80 L490.30 52.80 L493.30 52.80 L496.30 52.80 L499.30 52.80 L502.30 52.80 L505.30 52.80 L508.30 52.80 L511.30 52.80 L514.30 52.80 L517.30 52.80 L520.30 52.80 L523.30 52.80 L526.30 52.80 L529.30 52.80 L532.30 52.80 L535.30 52.80 L538.30 52.80 L541.30 52.80 L544.30 52.80 L547.30 52.80 L550.30 52.80 L553.30 52.80 L556.30 52.80 L559.30 52.80 L562.30 52.80 L565.30 52.80 L568.30 52.80 L571.30 52.80 L574.30 52.80 L577.30 52.80 L580.30 52.80 L583.30 52.80 L586.30 52.80 L589.30 52.80 L592.30 52.80 L595.30 52.80 L598.30 52.80 L601.30 52.80 L604.30 52.80 L607.30 52.80 L610.30 52.80 L613.30 52.80 L616.30 52.80 L619.30 52.80 L622.30 52.80 L625.30 52.80 L628.30 52.80 L631.30 52.80 L634.30 52.80 L637.30 52.80 L640.30 52.80 L643.30 52.80 L646.30 52.80 L649.30 52.80 L652.30 52.80 L655.30 52.80 L658.30 52.80 L661.30 52.80 L664.30 52.80 L667.30 52.80 L670.30 52.80 L673.30 52.80 L676.30 52.80 L679.30 52.80 L682.30 52.80 L685.30 52.80 L688.30 52.80 L691.30 52.80 L694.30 52.80 L697.30 52.80 L700.30 52.80 L703.30 52.80 L706.30 52.80 L709.30 52.80 L712.30 52.80 L715.30 52.80 L718.30 52.80 L721.30 52.80 L724.30 52.80 L727.30 52.80 L730.30 52.80 L733.30 52.80 L736.30 52.80 L739.30 52.80 L742.30 52.80 L745.30 52.80 L748.30 52.80 L751.30 52.80 L754.30 52.80 L757.30 52.80 L760.30 52.80 L763.30 52.80 L766.30 52.80 L769.30 52.80 L772.30 52.80 L775.30 52.80 L778.30 52.80 L781.30 52.80 L784.30 52.80 L787.30 52.80 L790.30 52.80 L793.30 52.80 L796.30 52.80 L799.30 52.80 L802.30 52.80 L805.30 52.80 L808.30 52.80 L811.30 52.80 L814.30 52.80 L817.30 52.80 L820.30 52.80 L823.30 52.80 L826.30 52.80 L829.30 52.80 L832.30 52.80 L835.30 52.80 L838.30 52.80 L841.30 52.80 L844.30 52.80 L847.30 52.80 L850.30 52.80 L853.30 52.80 L856.30 52.80 L859.30 52.80 L862.30 52.80 L865.30 52.80 L868.30 52.80 L871.30 52.80 L874.30 52.80 L877.30 52.80 L880.30 52.80 L883.30 52.80 L886.30 52.80 L889.30 52.80 L892.30 52.80 L895.30 52.80 L898.30 52.80 L901.30 52.80 L904.30 52.80 L907.30 52.80 L910.30 52.80 L913.30 52.80 L916.30 52.80 L919.30 52.80 L922.30 52.80 L925.30 52.80 L928.30 52.80 L931.30 52.80 L934.30 52.80 L937.30 52.80 L940.30 52.80 L943.30 52.80 L946.30 52.80 L949.30 52.80 L952.30 52.80 L955.30 52.80 L958.30 52.80 L961.30 52.80 L964.30 52.80 L967.30 52.80 L970.30 52.80 L973.30 52.80 L976.30 52.80 L979.30 52.80 L982.30 52.80 L985.30 52.80 L988.30 52.80 L991.30 52.80 L994.30 52.80 L997.30 52.80 L1000.30 52.80 L1003.30 52.80 L1006.30 52.80 L1009.30 52.80 L1012.30 52.80 L1015.30 52.80 L1018.30 52.80 L1021.30 52.80 L1024.30 52.80" fill="none" stroke="#EDB120" stroke-width="3.90" stroke-linejoin="round" stroke-dasharray="19.6 7.0 4.9 7.27"/></g><clipPath id="cb"><rect x="127.30" y="610.90" width="897.00" height="460.10"/></clipPath><g clip-path="url(#cb)"><path d="M127.30 676.50 L130.30 680.27 L133.30 683.95 L136.30 687.56 L139.30 691.10 L142.30 694.56 L145.30 697.96 L148.30 701.29 L151.30 704.56 L154.30 707.77 L157.30 710.92 L160.30 714.02 L163.30 717.06 L166.30 720.05 L169.30 722.99 L172.30 725.88 L175.30 728.72 L178.30 731.52 L181.30 734.27 L184.30 736.98 L187.30 739.65 L190.30 742.28 L193.30 744.88 L196.30 747.43 L199.30 749.95 L202.30 752.43 L205.30 754.88 L208.30 757.30 L211.30 759.69 L214.30 762.04 L217.30 764.36 L220.30 766.66 L223.30 768.92 L226.30 771.16 L229.30 773.37 L232.30 775.55 L235.30 777.71 L238.30 779.85 L241.30 781.96 L244.30 784.04 L247.30 786.11 L250.30 788.15 L253.30 790.17 L256.30 792.17 L259.30 794.14 L262.30 796.10 L265.30 798.04 L268.30 799.96 L271.30 801.86 L274.30 803.74 L277.30 805.60 L280.30 807.45 L283.30 809.27 L286.30 811.08 L289.30 812.88 L292.30 814.66 L295.30 816.42 L298.30 818.17 L301.30 819.90 L304.30 821.62 L307.30 823.33 L310.30 825.02 L313.30 826.69 L316.30 828.36 L319.30 830.01 L322.30 831.64 L325.30 833.27 L328.30 834.88 L331.30 836.48 L334.30 838.06 L337.30 839.64 L340.30 841.20 L343.30 842.76 L346.30 844.30 L349.30 845.83 L352.30 847.35 L355.30 848.86 L358.30 850.36 L361.30 851.85 L364.30 853.32 L367.30 854.79 L370.30 856.25 L373.30 857.70 L376.30 859.14 L379.30 860.58 L382.30 862.00 L385.30 863.41 L388.30 864.82 L391.30 866.22 L394.30 867.60 L397.30 868.98 L400.30 870.36 L403.30 871.72 L406.30 873.08 L409.30 874.42 L412.30 875.76 L415.30 877.10 L418.30 878.42 L421.30 879.74 L424.30 881.05 L427.30 882.35 L430.30 883.65 L433.30 884.94 L436.30 886.22 L439.30 887.50 L442.30 888.77 L445.30 890.03 L448.30 891.29 L451.30 892.54 L454.30 893.79 L457.30 895.02 L460.30 896.25 L463.30 897.48 L466.30 898.70 L469.30 899.91 L472.30 901.12 L475.30 902.32 L478.30 903.52 L481.30 904.71 L484.30 905.90 L487.30 907.08 L490.30 908.25 L493.30 909.42 L496.30 910.59 L499.30 911.74 L502.30 912.90 L505.30 914.05 L508.30 915.19 L511.30 916.33 L514.30 917.46 L517.30 918.59 L520.30 919.72 L523.30 920.84 L526.30 921.95 L529.30 923.06 L532.30 924.16 L535.30 925.27 L538.30 926.36 L541.30 927.45 L544.30 928.54 L547.30 929.62 L550.30 930.70 L553.30 931.78 L556.30 932.85 L559.30 933.91 L562.30 934.97 L565.30 936.03 L568.30 937.09 L571.30 938.13 L574.30 939.18 L577.30 940.22 L580.30 941.26 L583.30 942.29 L586.30 943.32 L589.30 944.35 L592.30 945.37 L595.30 946.39 L598.30 947.40 L601.30 948.41 L604.30 949.42 L607.30 950.42 L610.30 951.42 L613.30 952.42 L616.30 953.41 L619.30 954.40 L622.30 955.39 L625.30 956.37 L628.30 957.35 L631.30 958.33 L634.30 959.30 L637.30 960.27 L640.30 961.23 L643.30 962.19 L646.30 963.15 L649.30 964.11 L652.30 965.06 L655.30 966.01 L658.30 966.95 L661.30 967.90 L664.30 968.84 L667.30 969.77 L670.30 970.71 L673.30 971.64 L676.30 972.56 L679.30 973.49 L682.30 974.41 L685.30 975.33 L688.30 976.24 L691.30 977.15 L694.30 978.06 L697.30 978.97 L700.30 979.87 L703.30 980.77 L706.30 981.67 L709.30 982.57 L712.30 983.46 L715.30 984.35 L718.30 985.23 L721.30 986.12 L724.30 987.00 L727.30 987.88 L730.30 988.75 L733.30 989.62 L736.30 990.49 L739.30 991.36 L742.30 992.23 L745.30 993.09 L748.30 993.95 L751.30 994.80 L754.30 995.66 L757.30 996.51 L760.30 997.36 L763.30 998.20 L766.30 999.05 L769.30 999.89 L772.30 1000.73 L775.30 1001.56 L778.30 1002.40 L781.30 1003.23 L784.30 1004.06 L787.30 1004.88 L790.30 1005.71 L793.30 1006.53 L796.30 1007.35 L799.30 1008.16 L802.30 1008.98 L805.30 1009.79 L808.30 1010.60 L811.30 1011.40 L814.30 1012.21 L817.30 1013.01 L820.30 1013.81 L823.30 1014.61 L826.30 1015.40 L829.30 1016.20 L832.30 1016.99 L835.30 1017.77 L838.30 1018.56 L841.30 1019.34 L844.30 1020.13 L847.30 1020.90 L850.30 1021.68 L853.30 1022.46 L856.30 1023.23 L859.30 1024.00 L862.30 1024.77 L865.30 1025.53 L868.30 1026.30 L871.30 1027.06 L874.30 1027.82 L877.30 1028.57 L880.30 1029.33 L883.30 1030.08 L886.30 1030.83 L889.30 1031.58 L892.30 1032.33 L895.30 1033.07 L898.30 1033.81 L901.30 1034.55 L904.30 1035.29 L907.30 1036.02 L910.30 1036.76 L913.30 1037.49 L916.30 1038.22 L919.30 1038.95 L922.30 1039.67 L925.30 1040.39 L928.30 1041.12 L931.30 1041.84 L934.30 1042.55 L937.30 1043.27 L940.30 1043.98 L943.30 1044.69 L946.30 1045.40 L949.30 1046.11 L952.30 1046.81 L955.30 1047.52 L958.30 1048.22 L961.30 1048.92 L964.30 1049.61 L967.30 1050.31 L970.30 1051.00 L973.30 1051.69 L976.30 1052.38 L979.30 1053.07 L982.30 1053.75 L985.30 1054.44 L988.30 1055.12 L991.30 1055.80 L994.30 1056.48 L997.30 1057.15 L1000.30 1057.83 L1003.30 1058.50 L1006.30 1059.17 L1009.30 1059.84 L1012.30 1060.50 L1015.30 1061.17 L1018.30 1061.83 L1021.30 1062.49 L1024.30 1063.15" fill="none" stroke="#0072BD" stroke-width="3.90" stroke-linejoin="round"/><path d="M127.30 862.20 L130.30 862.56 L133.30 862.92 L136.30 863.27 L139.30 863.63 L142.30 863.98 L145.30 864.33 L148.30 864.67 L151.30 865.02 L154.30 865.36 L157.30 865.70 L160.30 866.04 L163.30 866.37 L166.30 866.71 L169.30 867.04 L172.30 867.37 L175.30 867.70 L178.30 868.03 L181.30 868.36 L184.30 868.68 L187.30 869.00 L190.30 869.33 L193.30 869.64 L196.30 869.96 L199.30 870.28 L202.30 870.59 L205.30 870.91 L208.30 871.22 L211.30 871.53 L214.30 871.84 L217.30 872.15 L220.30 872.45 L223.30 872.76 L226.30 873.06 L229.30 873.37 L232.30 873.67 L235.30 873.97 L238.30 874.27 L241.30 874.56 L244.30 874.86 L247.30 875.15 L250.30 875.45 L253.30 875.74 L256.30 876.03 L259.30 876.33 L262.30 876.61 L265.30 876.90 L268.30 877.19 L271.30 877.48 L274.30 877.76 L277.30 878.05 L280.30 878.33 L283.30 878.61 L286.30 878.90 L289.30 879.18 L292.30 879.46 L295.30 879.74 L298.30 880.01 L301.30 880.29 L304.30 880.57 L307.30 880.84 L310.30 881.12 L313.30 881.39 L316.30 881.67 L319.30 881.94 L322.30 882.21 L325.30 882.48 L328.30 882.75 L331.30 883.02 L334.30 883.29 L337.30 883.56 L340.30 883.82 L343.30 884.09 L346.30 884.36 L349.30 884.62 L352.30 884.88 L355.30 885.15 L358.30 885.41 L361.30 885.67 L364.30 885.93 L367.30 886.20 L370.30 886.46 L373.30 886.72 L376.30 886.97 L379.30 887.23 L382.30 887.49 L385.30 887.75 L388.30 888.01 L391.30 888.26 L394.30 888.52 L397.30 888.77 L400.30 889.03 L403.30 889.28 L406.30 889.53 L409.30 889.79 L412.30 890.04 L415.30 890.29 L418.30 890.54 L421.30 890.79 L424.30 891.04 L427.30 891.29 L430.30 891.54 L433.30 891.79 L436.30 892.04 L439.30 892.29 L442.30 892.53 L445.30 892.78 L448.30 893.03 L451.30 893.27 L454.30 893.52 L457.30 893.76 L460.30 894.01 L463.30 894.25 L466.30 894.50 L469.30 894.74 L472.30 894.98 L475.30 895.23 L478.30 895.47 L481.30 895.71 L484.30 895.95 L487.30 896.19 L490.30 896.43 L493.30 896.67 L496.30 896.91 L499.30 897.15 L502.30 897.39 L505.30 897.63 L508.30 897.87 L511.30 898.11 L514.30 898.35 L517.30 898.58 L520.30 898.82 L523.30 899.06 L526.30 899.29 L529.30 899.53 L532.30 899.76 L535.30 900.00 L538.30 900.24 L541.30 900.47 L544.30 900.70 L547.30 900.94 L550.30 901.17 L553.30 901.41 L556.30 901.64 L559.30 901.87 L562.30 902.10 L565.30 902.34 L568.30 902.57 L571.30 902.80 L574.30 903.03 L577.30 903.26 L580.30 903.49 L583.30 903.72 L586.30 903.96 L589.30 904.19 L592.30 904.41 L595.30 904.64 L598.30 904.87 L601.30 905.10 L604.30 905.33 L607.30 905.56 L610.30 905.79 L613.30 906.02 L616.30 906.24 L619.30 906.47 L622.30 906.70 L625.30 906.93 L628.30 907.15 L631.30 907.38 L634.30 907.61 L637.30 907.83 L640.30 908.06 L643.30 908.28 L646.30 908.51 L649.30 908.73 L652.30 908.96 L655.30 909.18 L658.30 909.41 L661.30 909.63 L664.30 909.86 L667.30 910.08 L670.30 910.30 L673.30 910.53 L676.30 910.75 L679.30 910.97 L682.30 911.20 L685.30 911.42 L688.30 911.64 L691.30 911.86 L694.30 912.09 L697.30 912.31 L700.30 912.53 L703.30 912.75 L706.30 912.97 L709.30 913.19 L712.30 913.42 L715.30 913.64 L718.30 913.86 L721.30 914.08 L724.30 914.30 L727.30 914.52 L730.30 914.74 L733.30 914.96 L736.30 915.18 L739.30 915.40 L742.30 915.62 L745.30 915.84 L748.30 916.05 L751.30 916.27 L754.30 916.49 L757.30 916.71 L760.30 916.93 L763.30 917.15 L766.30 917.37 L769.30 917.58 L772.30 917.80 L775.30 918.02 L778.30 918.24 L781.30 918.45 L784.30 918.67 L787.30 918.89 L790.30 919.10 L793.30 919.32 L796.30 919.54 L799.30 919.75 L802.30 919.97 L805.30 920.19 L808.30 920.40 L811.30 920.62 L814.30 920.83 L817.30 921.05 L820.30 921.26 L823.30 921.48 L826.30 921.69 L829.30 921.91 L832.30 922.12 L835.30 922.34 L838.30 922.55 L841.30 922.77 L844.30 922.98 L847.30 923.20 L850.30 923.41 L853.30 923.63 L856.30 923.84 L859.30 924.05 L862.30 924.27 L865.30 924.48 L868.30 924.69 L871.30 924.91 L874.30 925.12 L877.30 925.33 L880.30 925.55 L883.30 925.76 L886.30 925.97 L889.30 926.19 L892.30 926.40 L895.30 926.61 L898.30 926.82 L901.30 927.03 L904.30 927.25 L907.30 927.46 L910.30 927.67 L913.30 927.88 L916.30 928.09 L919.30 928.31 L922.30 928.52 L925.30 928.73 L928.30 928.94 L931.30 929.15 L934.30 929.36 L937.30 929.57 L940.30 929.78 L943.30 930.00 L946.30 930.21 L949.30 930.42 L952.30 930.63 L955.30 930.84 L958.30 931.05 L961.30 931.26 L964.30 931.47 L967.30 931.68 L970.30 931.89 L973.30 932.10 L976.30 932.31 L979.30 932.52 L982.30 932.73 L985.30 932.94 L988.30 933.15 L991.30 933.36 L994.30 933.56 L997.30 933.77 L1000.30 933.98 L1003.30 934.19 L1006.30 934.40 L1009.30 934.61 L1012.30 934.82 L1015.30 935.03 L1018.30 935.24 L1021.30 935.44 L1024.30 935.65" fill="none" stroke="#D95319" stroke-width="3.90" stroke-linejoin="round"/><circle cx="270.82" cy="797.60" r="9.55" fill="none" stroke="#0072BD" stroke-width="3.90"/><circle cx="414.34" cy="862.40" r="9.55" fill="none" stroke="#0072BD" stroke-width="3.90"/><circle cx="557.86" cy="910.60" r="9.55" fill="none" stroke="#0072BD" stroke-width="3.90"/><circle cx="701.38" cy="951.20" r="9.55" fill="none" stroke="#0072BD" stroke-width="3.90"/><circle cx="844.90" cy="984.40" r="9.55" fill="none" stroke="#0072BD" stroke-width="3.90"/><circle cx="988.42" cy="1015.60" r="9.55" fill="none" stroke="#0072BD" stroke-width="3.90"/><circle cx="270.82" cy="859.60" r="9.55" fill="none" stroke="#D95319" stroke-width="3.90"/><circle cx="414.34" cy="870.20" r="9.55" fill="none" stroke="#D95319" stroke-width="3.90"/><circle cx="557.86" cy="881.40" r="9.55" fill="none" stroke="#D95319" stroke-width="3.90"/><circle cx="701.38" cy="890.10" r="9.55" fill="none" stroke="#D95319" stroke-width="3.90"/><circle cx="844.90" cy="899.50" r="9.55" fill="none" stroke="#D95319" stroke-width="3.90"/><circle cx="988.42" cy="909.30" r="9.55" fill="none" stroke="#D95319" stroke-width="3.90"/><path d="M127.30 676.50 L130.30 680.09 L133.30 683.61 L136.30 687.07 L139.30 690.46 L142.30 693.78 L145.30 697.05 L148.30 700.25 L151.30 703.40 L154.30 706.50 L157.30 709.54 L160.30 712.53 L163.30 715.47 L166.30 718.36 L169.30 721.20 L172.30 723.99 L175.30 726.74 L178.30 729.45 L181.30 732.12 L184.30 734.74 L187.30 737.32 L190.30 739.87 L193.30 742.37 L196.30 744.85 L199.30 747.28 L202.30 749.68 L205.30 752.05 L208.30 754.38 L211.30 756.68 L214.30 758.95 L217.30 761.19 L220.30 763.39 L223.30 765.57 L226.30 767.73 L229.30 769.85 L232.30 771.95 L235.30 774.02 L238.30 776.06 L241.30 778.08 L244.30 780.07 L247.30 782.05 L250.30 783.99 L253.30 785.92 L256.30 787.82 L259.30 789.70 L262.30 791.56 L265.30 793.40 L268.30 795.22 L271.30 797.02 L274.30 798.80 L277.30 800.56 L280.30 802.30 L283.30 804.02 L286.30 805.73 L289.30 807.41 L292.30 809.08 L295.30 810.74 L298.30 812.38 L301.30 814.00 L304.30 815.60 L307.30 817.19 L310.30 818.77 L313.30 820.33 L316.30 821.87 L319.30 823.41 L322.30 824.92 L325.30 826.43 L328.30 827.92 L331.30 829.40 L334.30 830.86 L337.30 832.31 L340.30 833.75 L343.30 835.18 L346.30 836.59 L349.30 838.00 L352.30 839.39 L355.30 840.77 L358.30 842.14 L361.30 843.50 L364.30 844.85 L367.30 846.18 L370.30 847.51 L373.30 848.83 L376.30 850.14 L379.30 851.43 L382.30 852.72 L385.30 854.00 L388.30 855.27 L391.30 856.53 L394.30 857.78 L397.30 859.02 L400.30 860.26 L403.30 861.48 L406.30 862.70 L409.30 863.91 L412.30 865.11 L415.30 866.30 L418.30 867.48 L421.30 868.66 L424.30 869.83 L427.30 870.99 L430.30 872.14 L433.30 873.29 L436.30 874.43 L439.30 875.56 L442.30 876.69 L445.30 877.81 L448.30 878.92 L451.30 880.03 L454.30 881.13 L457.30 882.22 L460.30 883.31 L463.30 884.39 L466.30 885.46 L469.30 886.53 L472.30 887.59 L475.30 888.65 L478.30 889.70 L481.30 890.75 L484.30 891.79 L487.30 892.82 L490.30 893.85 L493.30 894.87 L496.30 895.89 L499.30 896.90 L502.30 897.91 L505.30 898.92 L508.30 899.91 L511.30 900.91 L514.30 901.89 L517.30 902.88 L520.30 903.86 L523.30 904.83 L526.30 905.80 L529.30 906.76 L532.30 907.73 L535.30 908.68 L538.30 909.63 L541.30 910.58 L544.30 911.52 L547.30 912.46 L550.30 913.40 L553.30 914.33 L556.30 915.26 L559.30 916.18 L562.30 917.10 L565.30 918.01 L568.30 918.93 L571.30 919.83 L574.30 920.74 L577.30 921.64 L580.30 922.53 L583.30 923.43 L586.30 924.32 L589.30 925.20 L592.30 926.09 L595.30 926.97 L598.30 927.84 L601.30 928.72 L604.30 929.59 L607.30 930.45 L610.30 931.31 L613.30 932.17 L616.30 933.03 L619.30 933.89 L622.30 934.74 L625.30 935.58 L628.30 936.43 L631.30 937.27 L634.30 938.11 L637.30 938.95 L640.30 939.78 L643.30 940.61 L646.30 941.44 L649.30 942.26 L652.30 943.09 L655.30 943.91 L658.30 944.72 L661.30 945.54 L664.30 946.35 L667.30 947.16 L670.30 947.97 L673.30 948.77 L676.30 949.57 L679.30 950.37 L682.30 951.17 L685.30 951.97 L688.30 952.76 L691.30 953.55 L694.30 954.34 L697.30 955.12 L700.30 955.90 L703.30 956.69 L706.30 957.46 L709.30 958.24 L712.30 959.02 L715.30 959.79 L718.30 960.56 L721.30 961.33 L724.30 962.09 L727.30 962.86 L730.30 963.62 L733.30 964.38 L736.30 965.14 L739.30 965.90 L742.30 966.65 L745.30 967.40 L748.30 968.15 L751.30 968.90 L754.30 969.65 L757.30 970.39 L760.30 971.14 L763.30 971.88 L766.30 972.62 L769.30 973.36 L772.30 974.09 L775.30 974.83 L778.30 975.56 L781.30 976.29 L784.30 977.02 L787.30 977.75 L790.30 978.47 L793.30 979.20 L796.30 979.92 L799.30 980.64 L802.30 981.36 L805.30 982.08 L808.30 982.80 L811.30 983.51 L814.30 984.23 L817.30 984.94 L820.30 985.65 L823.30 986.36 L826.30 987.07 L829.30 987.77 L832.30 988.48 L835.30 989.18 L838.30 989.88 L841.30 990.58 L844.30 991.28 L847.30 991.98 L850.30 992.68 L853.30 993.37 L856.30 994.07 L859.30 994.76 L862.30 995.45 L865.30 996.14 L868.30 996.83 L871.30 997.52 L874.30 998.20 L877.30 998.89 L880.30 999.57 L883.30 1000.25 L886.30 1000.93 L889.30 1001.61 L892.30 1002.29 L895.30 1002.97 L898.30 1003.65 L901.30 1004.32 L904.30 1005.00 L907.30 1005.67 L910.30 1006.34 L913.30 1007.01 L916.30 1007.68 L919.30 1008.35 L922.30 1009.02 L925.30 1009.69 L928.30 1010.35 L931.30 1011.02 L934.30 1011.68 L937.30 1012.34 L940.30 1013.00 L943.30 1013.66 L946.30 1014.32 L949.30 1014.98 L952.30 1015.64 L955.30 1016.30 L958.30 1016.95 L961.30 1017.61 L964.30 1018.26 L967.30 1018.91 L970.30 1019.56 L973.30 1020.21 L976.30 1020.86 L979.30 1021.51 L982.30 1022.16 L985.30 1022.81 L988.30 1023.45 L991.30 1024.10 L994.30 1024.74 L997.30 1025.39 L1000.30 1026.03 L1003.30 1026.67 L1006.30 1027.31 L1009.30 1027.95 L1012.30 1028.59 L1015.30 1029.23 L1018.30 1029.87 L1021.30 1030.50 L1024.30 1031.14" fill="none" stroke="#0072BD" stroke-width="3.90" stroke-linejoin="round" stroke-dasharray="3 6.69"/><path d="M127.30 847.60 L130.30 848.78 L133.30 849.19 L136.30 849.51 L139.30 849.80 L142.30 850.07 L145.30 850.34 L148.30 850.60 L151.30 850.86 L154.30 851.12 L157.30 851.38 L160.30 851.64 L163.30 851.89 L166.30 852.14 L169.30 852.40 L172.30 852.65 L175.30 852.90 L178.30 853.15 L181.30 853.40 L184.30 853.66 L187.30 853.91 L190.30 854.15 L193.30 854.40 L196.30 854.65 L199.30 854.90 L202.30 855.15 L205.30 855.40 L208.30 855.64 L211.30 855.89 L214.30 856.14 L217.30 856.38 L220.30 856.63 L223.30 856.88 L226.30 857.12 L229.30 857.37 L232.30 857.61 L235.30 857.85 L238.30 858.10 L241.30 858.34 L244.30 858.59 L247.30 858.83 L250.30 859.07 L253.30 859.31 L256.30 859.56 L259.30 859.80 L262.30 860.04 L265.30 860.28 L268.30 860.52 L271.30 860.76 L274.30 861.00 L277.30 861.24 L280.30 861.48 L283.30 861.72 L286.30 861.96 L289.30 862.20 L292.30 862.44 L295.30 862.68 L298.30 862.91 L301.30 863.15 L304.30 863.39 L307.30 863.63 L310.30 863.86 L313.30 864.10 L316.30 864.33 L319.30 864.57 L322.30 864.81 L325.30 865.04 L328.30 865.28 L331.30 865.51 L334.30 865.74 L337.30 865.98 L340.30 866.21 L343.30 866.45 L346.30 866.68 L349.30 866.91 L352.30 867.14 L355.30 867.38 L358.30 867.61 L361.30 867.84 L364.30 868.07 L367.30 868.30 L370.30 868.53 L373.30 868.76 L376.30 868.99 L379.30 869.22 L382.30 869.45 L385.30 869.68 L388.30 869.91 L391.30 870.14 L394.30 870.37 L397.30 870.60 L400.30 870.82 L403.30 871.05 L406.30 871.28 L409.30 871.50 L412.30 871.73 L415.30 871.96 L418.30 872.18 L421.30 872.41 L424.30 872.63 L427.30 872.86 L430.30 873.08 L433.30 873.31 L436.30 873.53 L439.30 873.76 L442.30 873.98 L445.30 874.20 L448.30 874.43 L451.30 874.65 L454.30 874.87 L457.30 875.09 L460.30 875.32 L463.30 875.54 L466.30 875.76 L469.30 875.98 L472.30 876.20 L475.30 876.42 L478.30 876.64 L481.30 876.86 L484.30 877.08 L487.30 877.30 L490.30 877.52 L493.30 877.74 L496.30 877.96 L499.30 878.17 L502.30 878.39 L505.30 878.61 L508.30 878.83 L511.30 879.04 L514.30 879.26 L517.30 879.48 L520.30 879.69 L523.30 879.91 L526.30 880.12 L529.30 880.34 L532.30 880.55 L535.30 880.77 L538.30 880.98 L541.30 881.19 L544.30 881.41 L547.30 881.62 L550.30 881.83 L553.30 882.05 L556.30 882.26 L559.30 882.47 L562.30 882.68 L565.30 882.89 L568.30 883.11 L571.30 883.32 L574.30 883.53 L577.30 883.74 L580.30 883.95 L583.30 884.16 L586.30 884.37 L589.30 884.58 L592.30 884.79 L595.30 884.99 L598.30 885.20 L601.30 885.41 L604.30 885.62 L607.30 885.82 L610.30 886.03 L613.30 886.24 L616.30 886.45 L619.30 886.65 L622.30 886.86 L625.30 887.06 L628.30 887.27 L631.30 887.47 L634.30 887.68 L637.30 887.88 L640.30 888.09 L643.30 888.29 L646.30 888.49 L649.30 888.70 L652.30 888.90 L655.30 889.10 L658.30 889.31 L661.30 889.51 L664.30 889.71 L667.30 889.91 L670.30 890.11 L673.30 890.31 L676.30 890.51 L679.30 890.71 L682.30 890.91 L685.30 891.11 L688.30 891.31 L691.30 891.51 L694.30 891.71 L697.30 891.91 L700.30 892.11 L703.30 892.31 L706.30 892.50 L709.30 892.70 L712.30 892.90 L715.30 893.09 L718.30 893.29 L721.30 893.49 L724.30 893.68 L727.30 893.88 L730.30 894.07 L733.30 894.27 L736.30 894.46 L739.30 894.66 L742.30 894.85 L745.30 895.05 L748.30 895.24 L751.30 895.43 L754.30 895.63 L757.30 895.82 L760.30 896.01 L763.30 896.20 L766.30 896.39 L769.30 896.59 L772.30 896.78 L775.30 896.97 L778.30 897.16 L781.30 897.35 L784.30 897.54 L787.30 897.73 L790.30 897.92 L793.30 898.11 L796.30 898.30 L799.30 898.48 L802.30 898.67 L805.30 898.86 L808.30 899.05 L811.30 899.24 L814.30 899.42 L817.30 899.61 L820.30 899.80 L823.30 899.98 L826.30 900.17 L829.30 900.35 L832.30 900.54 L835.30 900.72 L838.30 900.91 L841.30 901.09 L844.30 901.28 L847.30 901.46 L850.30 901.64 L853.30 901.83 L856.30 902.01 L859.30 902.19 L862.30 902.37 L865.30 902.56 L868.30 902.74 L871.30 902.92 L874.30 903.10 L877.30 903.28 L880.30 903.46 L883.30 903.64 L886.30 903.82 L889.30 904.00 L892.30 904.18 L895.30 904.36 L898.30 904.54 L901.30 904.72 L904.30 904.90 L907.30 905.07 L910.30 905.25 L913.30 905.43 L916.30 905.61 L919.30 905.78 L922.30 905.96 L925.30 906.14 L928.30 906.31 L931.30 906.49 L934.30 906.66 L937.30 906.84 L940.30 907.01 L943.30 907.19 L946.30 907.36 L949.30 907.53 L952.30 907.71 L955.30 907.88 L958.30 908.05 L961.30 908.23 L964.30 908.40 L967.30 908.57 L970.30 908.74 L973.30 908.91 L976.30 909.08 L979.30 909.26 L982.30 909.43 L985.30 909.60 L988.30 909.77 L991.30 909.94 L994.30 910.11 L997.30 910.27 L1000.30 910.44 L1003.30 910.61 L1006.30 910.78 L1009.30 910.95 L1012.30 911.12 L1015.30 911.28 L1018.30 911.45 L1021.30 911.62 L1024.30 911.78" fill="none" stroke="#D95319" stroke-width="3.90" stroke-linejoin="round" stroke-dasharray="3 6.69"/><path d="M263.87 659.25 L277.77 673.15 M263.87 673.15 L277.77 659.25" stroke="#0072BD" stroke-width="3.90" fill="none"/><path d="M407.39 653.75 L421.29 667.65 M407.39 667.65 L421.29 653.75" stroke="#0072BD" stroke-width="3.90" fill="none"/><path d="M550.91 650.15 L564.81 664.05 M550.91 664.05 L564.81 650.15" stroke="#0072BD" stroke-width="3.90" fill="none"/><path d="M694.43 646.65 L708.33 660.55 M694.43 660.55 L708.33 646.65" stroke="#0072BD" stroke-width="3.90" fill="none"/><path d="M837.95 644.15 L851.85 658.05 M837.95 658.05 L851.85 644.15" stroke="#0072BD" stroke-width="3.90" fill="none"/><path d="M981.47 641.75 L995.37 655.65 M981.47 655.65 L995.37 641.75" stroke="#0072BD" stroke-width="3.90" fill="none"/><path d="M263.87 670.15 L277.77 684.05 M263.87 684.05 L277.77 670.15" stroke="#D95319" stroke-width="3.90" fill="none"/><path d="M407.39 667.05 L421.29 680.95 M407.39 680.95 L421.29 667.05" stroke="#D95319" stroke-width="3.90" fill="none"/><path d="M550.91 666.95 L564.81 680.85 M550.91 680.85 L564.81 666.95" stroke="#D95319" stroke-width="3.90" fill="none"/><path d="M694.43 665.75 L708.33 679.65 M694.43 679.65 L708.33 665.75" stroke="#D95319" stroke-width="3.90" fill="none"/><path d="M837.95 664.95 L851.85 678.85 M837.95 678.85 L851.85 664.95" stroke="#D95319" stroke-width="3.90" fill="none"/><path d="M981.47 664.05 L995.37 677.95 M981.47 677.95 L995.37 664.05" stroke="#D95319" stroke-width="3.90" fill="none"/><path d="M127.30 676.50 L130.30 676.16 L133.30 675.83 L136.30 675.50 L139.30 675.19 L142.30 674.88 L145.30 674.58 L148.30 674.28 L151.30 673.99 L154.30 673.71 L157.30 673.43 L160.30 673.16 L163.30 672.90 L166.30 672.64 L169.30 672.38 L172.30 672.13 L175.30 671.88 L178.30 671.64 L181.30 671.40 L184.30 671.17 L187.30 670.94 L190.30 670.72 L193.30 670.50 L196.30 670.28 L199.30 670.06 L202.30 669.85 L205.30 669.64 L208.30 669.44 L211.30 669.24 L214.30 669.04 L217.30 668.84 L220.30 668.65 L223.30 668.46 L226.30 668.27 L229.30 668.09 L232.30 667.90 L235.30 667.72 L238.30 667.55 L241.30 667.37 L244.30 667.20 L247.30 667.02 L250.30 666.85 L253.30 666.69 L256.30 666.52 L259.30 666.36 L262.30 666.20 L265.30 666.04 L268.30 665.88 L271.30 665.72 L274.30 665.57 L277.30 665.41 L280.30 665.26 L283.30 665.11 L286.30 664.96 L289.30 664.81 L292.30 664.67 L295.30 664.52 L298.30 664.38 L301.30 664.24 L304.30 664.10 L307.30 663.96 L310.30 663.82 L313.30 663.68 L316.30 663.54 L319.30 663.41 L322.30 663.28 L325.30 663.14 L328.30 663.01 L331.30 662.88 L334.30 662.75 L337.30 662.62 L340.30 662.50 L343.30 662.37 L346.30 662.24 L349.30 662.12 L352.30 662.00 L355.30 661.87 L358.30 661.75 L361.30 661.63 L364.30 661.51 L367.30 661.39 L370.30 661.27 L373.30 661.15 L376.30 661.04 L379.30 660.92 L382.30 660.81 L385.30 660.69 L388.30 660.58 L391.30 660.46 L394.30 660.35 L397.30 660.24 L400.30 660.13 L403.30 660.02 L406.30 659.91 L409.30 659.80 L412.30 659.69 L415.30 659.58 L418.30 659.47 L421.30 659.37 L424.30 659.26 L427.30 659.15 L430.30 659.05 L433.30 658.94 L436.30 658.84 L439.30 658.74 L442.30 658.63 L445.30 658.53 L448.30 658.43 L451.30 658.33 L454.30 658.23 L457.30 658.12 L460.30 658.02 L463.30 657.92 L466.30 657.83 L469.30 657.73 L472.30 657.63 L475.30 657.53 L478.30 657.43 L481.30 657.34 L484.30 657.24 L487.30 657.14 L490.30 657.05 L493.30 656.95 L496.30 656.86 L499.30 656.76 L502.30 656.67 L505.30 656.58 L508.30 656.48 L511.30 656.39 L514.30 656.30 L517.30 656.21 L520.30 656.11 L523.30 656.02 L526.30 655.93 L529.30 655.84 L532.30 655.75 L535.30 655.66 L538.30 655.57 L541.30 655.48 L544.30 655.39 L547.30 655.30 L550.30 655.21 L553.30 655.13 L556.30 655.04 L559.30 654.95 L562.30 654.86 L565.30 654.78 L568.30 654.69 L571.30 654.60 L574.30 654.52 L577.30 654.43 L580.30 654.35 L583.30 654.26 L586.30 654.18 L589.30 654.09 L592.30 654.01 L595.30 653.93 L598.30 653.84 L601.30 653.76 L604.30 653.68 L607.30 653.59 L610.30 653.51 L613.30 653.43 L616.30 653.35 L619.30 653.26 L622.30 653.18 L625.30 653.10 L628.30 653.02 L631.30 652.94 L634.30 652.86 L637.30 652.78 L640.30 652.70 L643.30 652.62 L646.30 652.54 L649.30 652.46 L652.30 652.38 L655.30 652.30 L658.30 652.22 L661.30 652.14 L664.30 652.06 L667.30 651.99 L670.30 651.91 L673.30 651.83 L676.30 651.75 L679.30 651.68 L682.30 651.60 L685.30 651.52 L688.30 651.45 L691.30 651.37 L694.30 651.29 L697.30 651.22 L700.30 651.14 L703.30 651.07 L706.30 650.99 L709.30 650.91 L712.30 650.84 L715.30 650.77 L718.30 650.69 L721.30 650.62 L724.30 650.54 L727.30 650.47 L730.30 650.39 L733.30 650.32 L736.30 650.25 L739.30 650.17 L742.30 650.10 L745.30 650.03 L748.30 649.95 L751.30 649.88 L754.30 649.81 L757.30 649.74 L760.30 649.66 L763.30 649.59 L766.30 649.52 L769.30 649.45 L772.30 649.38 L775.30 649.31 L778.30 649.23 L781.30 649.16 L784.30 649.09 L787.30 649.02 L790.30 648.95 L793.30 648.88 L796.30 648.81 L799.30 648.74 L802.30 648.67 L805.30 648.60 L808.30 648.53 L811.30 648.46 L814.30 648.39 L817.30 648.32 L820.30 648.26 L823.30 648.19 L826.30 648.12 L829.30 648.05 L832.30 647.98 L835.30 647.91 L838.30 647.85 L841.30 647.78 L844.30 647.71 L847.30 647.64 L850.30 647.57 L853.30 647.51 L856.30 647.44 L859.30 647.37 L862.30 647.31 L865.30 647.24 L868.30 647.17 L871.30 647.11 L874.30 647.04 L877.30 646.97 L880.30 646.91 L883.30 646.84 L886.30 646.78 L889.30 646.71 L892.30 646.64 L895.30 646.58 L898.30 646.51 L901.30 646.45 L904.30 646.38 L907.30 646.32 L910.30 646.25 L913.30 646.19 L916.30 646.13 L919.30 646.06 L922.30 646.00 L925.30 645.93 L928.30 645.87 L931.30 645.80 L934.30 645.74 L937.30 645.68 L940.30 645.61 L943.30 645.55 L946.30 645.49 L949.30 645.42 L952.30 645.36 L955.30 645.30 L958.30 645.24 L961.30 645.17 L964.30 645.11 L967.30 645.05 L970.30 644.99 L973.30 644.92 L976.30 644.86 L979.30 644.80 L982.30 644.74 L985.30 644.68 L988.30 644.61 L991.30 644.55 L994.30 644.49 L997.30 644.43 L1000.30 644.37 L1003.30 644.31 L1006.30 644.25 L1009.30 644.19 L1012.30 644.13 L1015.30 644.07 L1018.30 644.01 L1021.30 643.95 L1024.30 643.88" fill="none" stroke="#0072BD" stroke-width="3.90" stroke-linejoin="round" stroke-dasharray="24.6 14.17"/><path d="M127.30 676.50 L130.30 676.48 L133.30 676.46 L136.30 676.44 L139.30 676.42 L142.30 676.40 L145.30 676.38 L148.30 676.35 L151.30 676.33 L154.30 676.31 L157.30 676.29 L160.30 676.27 L163.30 676.25 L166.30 676.23 L169.30 676.21 L172.30 676.19 L175.30 676.17 L178.30 676.15 L181.30 676.13 L184.30 676.11 L187.30 676.09 L190.30 676.06 L193.30 676.04 L196.30 676.02 L199.30 676.00 L202.30 675.98 L205.30 675.96 L208.30 675.94 L211.30 675.92 L214.30 675.90 L217.30 675.88 L220.30 675.86 L223.30 675.84 L226.30 675.82 L229.30 675.79 L232.30 675.77 L235.30 675.75 L238.30 675.73 L241.30 675.71 L244.30 675.69 L247.30 675.67 L250.30 675.65 L253.30 675.63 L256.30 675.61 L259.30 675.59 L262.30 675.57 L265.30 675.55 L268.30 675.53 L271.30 675.50 L274.30 675.48 L277.30 675.46 L280.30 675.44 L283.30 675.42 L286.30 675.40 L289.30 675.38 L292.30 675.36 L295.30 675.34 L298.30 675.32 L301.30 675.30 L304.30 675.28 L307.30 675.26 L310.30 675.24 L313.30 675.21 L316.30 675.19 L319.30 675.17 L322.30 675.15 L325.30 675.13 L328.30 675.11 L331.30 675.09 L334.30 675.07 L337.30 675.05 L340.30 675.03 L343.30 675.01 L346.30 674.99 L349.30 674.97 L352.30 674.94 L355.30 674.92 L358.30 674.90 L361.30 674.88 L364.30 674.86 L367.30 674.84 L370.30 674.82 L373.30 674.80 L376.30 674.78 L379.30 674.76 L382.30 674.74 L385.30 674.72 L388.30 674.70 L391.30 674.68 L394.30 674.65 L397.30 674.63 L400.30 674.61 L403.30 674.59 L406.30 674.57 L409.30 674.55 L412.30 674.53 L415.30 674.51 L418.30 674.49 L421.30 674.47 L424.30 674.45 L427.30 674.43 L430.30 674.41 L433.30 674.38 L436.30 674.36 L439.30 674.34 L442.30 674.32 L445.30 674.30 L448.30 674.28 L451.30 674.26 L454.30 674.24 L457.30 674.22 L460.30 674.20 L463.30 674.18 L466.30 674.16 L469.30 674.14 L472.30 674.12 L475.30 674.09 L478.30 674.07 L481.30 674.05 L484.30 674.03 L487.30 674.01 L490.30 673.99 L493.30 673.97 L496.30 673.95 L499.30 673.93 L502.30 673.91 L505.30 673.89 L508.30 673.87 L511.30 673.85 L514.30 673.83 L517.30 673.80 L520.30 673.78 L523.30 673.76 L526.30 673.74 L529.30 673.72 L532.30 673.70 L535.30 673.68 L538.30 673.66 L541.30 673.64 L544.30 673.62 L547.30 673.60 L550.30 673.58 L553.30 673.56 L556.30 673.53 L559.30 673.51 L562.30 673.49 L565.30 673.47 L568.30 673.45 L571.30 673.43 L574.30 673.41 L577.30 673.39 L580.30 673.37 L583.30 673.35 L586.30 673.33 L589.30 673.31 L592.30 673.29 L595.30 673.27 L598.30 673.24 L601.30 673.22 L604.30 673.20 L607.30 673.18 L610.30 673.16 L613.30 673.14 L616.30 673.12 L619.30 673.10 L622.30 673.08 L625.30 673.06 L628.30 673.04 L631.30 673.02 L634.30 673.00 L637.30 672.97 L640.30 672.95 L643.30 672.93 L646.30 672.91 L649.30 672.89 L652.30 672.87 L655.30 672.85 L658.30 672.83 L661.30 672.81 L664.30 672.79 L667.30 672.77 L670.30 672.75 L673.30 672.73 L676.30 672.71 L679.30 672.68 L682.30 672.66 L685.30 672.64 L688.30 672.62 L691.30 672.60 L694.30 672.58 L697.30 672.56 L700.30 672.54 L703.30 672.52 L706.30 672.50 L709.30 672.48 L712.30 672.46 L715.30 672.44 L718.30 672.42 L721.30 672.39 L724.30 672.37 L727.30 672.35 L730.30 672.33 L733.30 672.31 L736.30 672.29 L739.30 672.27 L742.30 672.25 L745.30 672.23 L748.30 672.21 L751.30 672.19 L754.30 672.17 L757.30 672.15 L760.30 672.12 L763.30 672.10 L766.30 672.08 L769.30 672.06 L772.30 672.04 L775.30 672.02 L778.30 672.00 L781.30 671.98 L784.30 671.96 L787.30 671.94 L790.30 671.92 L793.30 671.90 L796.30 671.88 L799.30 671.86 L802.30 671.83 L805.30 671.81 L808.30 671.79 L811.30 671.77 L814.30 671.75 L817.30 671.73 L820.30 671.71 L823.30 671.69 L826.30 671.67 L829.30 671.65 L832.30 671.63 L835.30 671.61 L838.30 671.59 L841.30 671.56 L844.30 671.54 L847.30 671.52 L850.30 671.50 L853.30 671.48 L856.30 671.46 L859.30 671.44 L862.30 671.42 L865.30 671.40 L868.30 671.38 L871.30 671.36 L874.30 671.34 L877.30 671.32 L880.30 671.30 L883.30 671.27 L886.30 671.25 L889.30 671.23 L892.30 671.21 L895.30 671.19 L898.30 671.17 L901.30 671.15 L904.30 671.13 L907.30 671.11 L910.30 671.09 L913.30 671.07 L916.30 671.05 L919.30 671.03 L922.30 671.01 L925.30 670.98 L928.30 670.96 L931.30 670.94 L934.30 670.92 L937.30 670.90 L940.30 670.88 L943.30 670.86 L946.30 670.84 L949.30 670.82 L952.30 670.80 L955.30 670.78 L958.30 670.76 L961.30 670.74 L964.30 670.71 L967.30 670.69 L970.30 670.67 L973.30 670.65 L976.30 670.63 L979.30 670.61 L982.30 670.59 L985.30 670.57 L988.30 670.55 L991.30 670.53 L994.30 670.51 L997.30 670.49 L1000.30 670.47 L1003.30 670.45 L1006.30 670.42 L1009.30 670.40 L1012.30 670.38 L1015.30 670.36 L1018.30 670.34 L1021.30 670.32 L1024.30 670.30" fill="none" stroke="#D95319" stroke-width="3.90" stroke-linejoin="round" stroke-dasharray="24.6 14.17"/><path d="M127.30 676.50 L130.30 676.55 L133.30 676.60 L136.30 676.66 L139.30 676.71 L142.30 676.76 L145.30 676.82 L148.30 676.88 L151.30 676.93 L154.30 676.99 L157.30 677.05 L160.30 677.11 L163.30 677.17 L166.30 677.22 L169.30 677.28 L172.30 677.34 L175.30 677.41 L178.30 677.47 L181.30 677.53 L184.30 677.59 L187.30 677.65 L190.30 677.71 L193.30 677.77 L196.30 677.83 L199.30 677.90 L202.30 677.96 L205.30 678.02 L208.30 678.08 L211.30 678.14 L214.30 678.21 L217.30 678.27 L220.30 678.33 L223.30 678.40 L226.30 678.46 L229.30 678.52 L232.30 678.58 L235.30 678.65 L238.30 678.71 L241.30 678.77 L244.30 678.84 L247.30 678.90 L250.30 678.96 L253.30 679.02 L256.30 679.09 L259.30 679.15 L262.30 679.21 L265.30 679.28 L268.30 679.34 L271.30 679.40 L274.30 679.47 L277.30 679.53 L280.30 679.59 L283.30 679.66 L286.30 679.72 L289.30 679.78 L292.30 679.85 L295.30 679.91 L298.30 679.97 L301.30 680.03 L304.30 680.10 L307.30 680.16 L310.30 680.22 L313.30 680.29 L316.30 680.35 L319.30 680.41 L322.30 680.47 L325.30 680.54 L328.30 680.60 L331.30 680.66 L334.30 680.73 L337.30 680.79 L340.30 680.85 L343.30 680.91 L346.30 680.98 L349.30 681.04 L352.30 681.10 L355.30 681.16 L358.30 681.23 L361.30 681.29 L364.30 681.35 L367.30 681.41 L370.30 681.47 L373.30 681.54 L376.30 681.60 L379.30 681.66 L382.30 681.72 L385.30 681.79 L388.30 681.85 L391.30 681.91 L394.30 681.97 L397.30 682.03 L400.30 682.09 L403.30 682.16 L406.30 682.22 L409.30 682.28 L412.30 682.34 L415.30 682.40 L418.30 682.46 L421.30 682.53 L424.30 682.59 L427.30 682.65 L430.30 682.71 L433.30 682.77 L436.30 682.83 L439.30 682.89 L442.30 682.95 L445.30 683.02 L448.30 683.08 L451.30 683.14 L454.30 683.20 L457.30 683.26 L460.30 683.32 L463.30 683.38 L466.30 683.44 L469.30 683.50 L472.30 683.56 L475.30 683.62 L478.30 683.68 L481.30 683.74 L484.30 683.80 L487.30 683.86 L490.30 683.92 L493.30 683.98 L496.30 684.04 L499.30 684.11 L502.30 684.17 L505.30 684.22 L508.30 684.28 L511.30 684.34 L514.30 684.40 L517.30 684.46 L520.30 684.52 L523.30 684.58 L526.30 684.64 L529.30 684.70 L532.30 684.76 L535.30 684.82 L538.30 684.88 L541.30 684.94 L544.30 685.00 L547.30 685.06 L550.30 685.12 L553.30 685.18 L556.30 685.24 L559.30 685.29 L562.30 685.35 L565.30 685.41 L568.30 685.47 L571.30 685.53 L574.30 685.59 L577.30 685.65 L580.30 685.71 L583.30 685.76 L586.30 685.82 L589.30 685.88 L592.30 685.94 L595.30 686.00 L598.30 686.06 L601.30 686.11 L604.30 686.17 L607.30 686.23 L610.30 686.29 L613.30 686.35 L616.30 686.40 L619.30 686.46 L622.30 686.52 L625.30 686.58 L628.30 686.63 L631.30 686.69 L634.30 686.75 L637.30 686.81 L640.30 686.86 L643.30 686.92 L646.30 686.98 L649.30 687.04 L652.30 687.09 L655.30 687.15 L658.30 687.21 L661.30 687.26 L664.30 687.32 L667.30 687.38 L670.30 687.44 L673.30 687.49 L676.30 687.55 L679.30 687.61 L682.30 687.66 L685.30 687.72 L688.30 687.77 L691.30 687.83 L694.30 687.89 L697.30 687.94 L700.30 688.00 L703.30 688.06 L706.30 688.11 L709.30 688.17 L712.30 688.22 L715.30 688.28 L718.30 688.34 L721.30 688.39 L724.30 688.45 L727.30 688.50 L730.30 688.56 L733.30 688.61 L736.30 688.67 L739.30 688.73 L742.30 688.78 L745.30 688.84 L748.30 688.89 L751.30 688.95 L754.30 689.00 L757.30 689.06 L760.30 689.11 L763.30 689.17 L766.30 689.22 L769.30 689.28 L772.30 689.33 L775.30 689.39 L778.30 689.44 L781.30 689.50 L784.30 689.55 L787.30 689.60 L790.30 689.66 L793.30 689.71 L796.30 689.77 L799.30 689.82 L802.30 689.88 L805.30 689.93 L808.30 689.98 L811.30 690.04 L814.30 690.09 L817.30 690.15 L820.30 690.20 L823.30 690.25 L826.30 690.31 L829.30 690.36 L832.30 690.41 L835.30 690.47 L838.30 690.52 L841.30 690.57 L844.30 690.63 L847.30 690.68 L850.30 690.73 L853.30 690.79 L856.30 690.84 L859.30 690.89 L862.30 690.95 L865.30 691.00 L868.30 691.05 L871.30 691.10 L874.30 691.16 L877.30 691.21 L880.30 691.26 L883.30 691.32 L886.30 691.37 L889.30 691.42 L892.30 691.47 L895.30 691.53 L898.30 691.58 L901.30 691.63 L904.30 691.68 L907.30 691.73 L910.30 691.79 L913.30 691.84 L916.30 691.89 L919.30 691.94 L922.30 691.99 L925.30 692.04 L928.30 692.10 L931.30 692.15 L934.30 692.20 L937.30 692.25 L940.30 692.30 L943.30 692.35 L946.30 692.40 L949.30 692.46 L952.30 692.51 L955.30 692.56 L958.30 692.61 L961.30 692.66 L964.30 692.71 L967.30 692.76 L970.30 692.81 L973.30 692.86 L976.30 692.91 L979.30 692.96 L982.30 693.02 L985.30 693.07 L988.30 693.12 L991.30 693.17 L994.30 693.22 L997.30 693.27 L1000.30 693.32 L1003.30 693.37 L1006.30 693.42 L1009.30 693.47 L1012.30 693.52 L1015.30 693.57 L1018.30 693.62 L1021.30 693.67 L1024.30 693.72" fill="none" stroke="#EDB120" stroke-width="3.90" stroke-linejoin="round" stroke-dasharray="19.6 7.0 4.9 7.27"/></g><text x="576.80" y="584.60" class="lab" text-anchor="middle">Gain <tspan font-style="italic" dx="2">g</tspan></text><text x="576.80" y="1171.10" class="lab" text-anchor="middle">Gain <tspan font-style="italic" dx="2">g</tspan></text><g transform="translate(38.7 430.00) rotate(-90)"><text x="-2.10" y="0" class="yl sv">Servo</text><text x="115.00" y="0" class="yl">error</text><text x="254.60" y="0" class="yd">10</text><text x="322.00" y="-15.7" class="ys">18</text></g><path d="M5.6 191.70 L49.3 207.50" stroke="#262626" stroke-width="1.6" fill="none"/><rect x="14.8" y="112.10" width="1.4" height="17.8" fill="#262626"/><g transform="translate(38.7 1015.80) rotate(-90)"><text x="-2.10" y="0" class="yl sv">Servo</text><text x="115.00" y="0" class="yl">error</text><text x="254.60" y="0" class="yd">10</text><text x="322.00" y="-15.7" class="ys">18</text></g><path d="M5.6 777.50 L49.3 793.30" stroke="#262626" stroke-width="1.6" fill="none"/><rect x="14.8" y="697.90" width="1.4" height="17.8" fill="#262626"/><path d="M10.90 -0.60 C-3.37 10.12 -3.37 35.28 10.90 46.00 L12.00 45.70 C-0.13 35.28 -0.13 10.12 12.00 -0.30 Z" fill="#000"/><text transform="translate(14.00 33.9) scale(1.1 1)" class="pl">a</text><path d="M38.30 -0.60 C52.83 10.12 52.83 35.28 38.30 46.00 L37.20 45.70 C49.60 35.28 49.60 10.12 37.20 -0.30 Z" fill="#000"/><path d="M10.90 582.50 C-3.37 593.08 -3.37 617.92 10.90 628.50 L12.00 628.20 C-0.13 617.92 -0.13 593.08 12.00 582.80 Z" fill="#000"/><text transform="translate(14.20 618.2) scale(1.12 1)" class="pl">b</text><path d="M40.60 582.50 C55.27 593.08 55.27 617.92 40.60 628.50 L39.50 628.20 C52.03 617.92 52.03 593.08 39.50 582.80 Z" fill="#000"/></svg></body></html>
